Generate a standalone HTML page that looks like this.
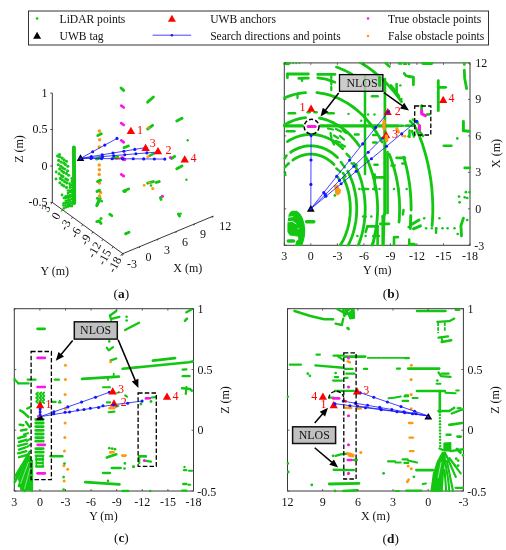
<!DOCTYPE html>
<html><head><meta charset="utf-8"><title>Figure</title>
<style>html,body{margin:0;padding:0;background:#fff}svg{display:block}text{font-family:"Liberation Serif","DejaVu Serif",serif}</style>
</head><body>
<svg width="506" height="550" viewBox="0 0 506 550">
<rect width="506" height="550" fill="#fff"/>
<rect x="28.5" y="11" width="460" height="34" fill="#fff" stroke="#333" stroke-width="1"/>
<circle cx="37.1" cy="18.5" r="1.3" fill="#00d000"/>
<path d="M33.1 38.8 L41.1 38.8 L37.1 31.8Z" fill="#000"/>
<path d="M167.9 21.7 L175.9 21.7 L171.9 14.7Z" fill="#ff0000"/>
<line x1="152.6" y1="35.2" x2="191.2" y2="35.2" stroke="#1414ff" stroke-width="0.8" />
<circle cx="171.9" cy="35.2" r="1.2" fill="#1414ff"/>
<circle cx="368.0" cy="18.5" r="1.25" fill="#ff14e6"/>
<circle cx="368.0" cy="36.0" r="1.25" fill="#ff9812"/>
<text x="59.6" y="23.3" font-size="11.55" text-anchor="start" fill="#111" >LiDAR points</text>
<text x="59.6" y="39.5" font-size="11.55" text-anchor="start" fill="#111" >UWB tag</text>
<text x="210.2" y="23.3" font-size="11.55" text-anchor="start" fill="#111" >UWB anchors</text>
<text x="210.2" y="39.5" font-size="11.55" text-anchor="start" fill="#111" >Search directions and points</text>
<text x="388.1" y="23.3" font-size="11.55" text-anchor="start" fill="#111" >True obstacle points</text>
<text x="388.1" y="39.5" font-size="11.55" text-anchor="start" fill="#111" >False obstacle points</text>
<line x1="52.3" y1="93.1" x2="52.3" y2="202.4" stroke="#222" stroke-width="0.9" />
<line x1="52.3" y1="202.4" x2="123.3" y2="254.0" stroke="#222" stroke-width="0.9" />
<line x1="122.0" y1="254.0" x2="213.3" y2="216.1" stroke="#222" stroke-width="0.9" />
<line x1="50.3" y1="93.1" x2="52.3" y2="93.1" stroke="#222" stroke-width="0.8" />
<text x="47.5" y="96.6" font-size="12" text-anchor="end" fill="#111" >1</text>
<line x1="50.3" y1="129.5" x2="52.3" y2="129.5" stroke="#222" stroke-width="0.8" />
<text x="47.5" y="133.0" font-size="12" text-anchor="end" fill="#111" >0.5</text>
<line x1="50.3" y1="166.0" x2="52.3" y2="166.0" stroke="#222" stroke-width="0.8" />
<text x="47.5" y="169.5" font-size="12" text-anchor="end" fill="#111" >0</text>
<line x1="50.3" y1="202.4" x2="52.3" y2="202.4" stroke="#222" stroke-width="0.8" />
<text x="47.5" y="205.9" font-size="12" text-anchor="end" fill="#111" >-0.5</text>
<line x1="52.3" y1="202.4" x2="51.1" y2="204.2" stroke="#222" stroke-width="0.8" />
<text x="48.3" y="206.4" font-size="12" text-anchor="end" fill="#111" transform="rotate(-61 48.3 206.4)" dy="3">3</text>
<line x1="62.4" y1="209.8" x2="61.2" y2="211.6" stroke="#222" stroke-width="0.8" />
<text x="58.4" y="213.8" font-size="12" text-anchor="end" fill="#111" transform="rotate(-61 58.4 213.8)" dy="3">0</text>
<line x1="72.6" y1="217.1" x2="71.4" y2="218.9" stroke="#222" stroke-width="0.8" />
<text x="68.6" y="221.1" font-size="12" text-anchor="end" fill="#111" transform="rotate(-61 68.6 221.1)" dy="3">-3</text>
<line x1="82.7" y1="224.5" x2="81.5" y2="226.3" stroke="#222" stroke-width="0.8" />
<text x="78.7" y="228.5" font-size="12" text-anchor="end" fill="#111" transform="rotate(-61 78.7 228.5)" dy="3">-6</text>
<line x1="92.9" y1="231.9" x2="91.7" y2="233.7" stroke="#222" stroke-width="0.8" />
<text x="88.9" y="235.9" font-size="12" text-anchor="end" fill="#111" transform="rotate(-61 88.9 235.9)" dy="3">-9</text>
<line x1="103.0" y1="239.2" x2="101.8" y2="241.1" stroke="#222" stroke-width="0.8" />
<text x="99.0" y="243.2" font-size="12" text-anchor="end" fill="#111" transform="rotate(-61 99.0 243.2)" dy="3">-12</text>
<line x1="113.1" y1="246.6" x2="111.9" y2="248.4" stroke="#222" stroke-width="0.8" />
<text x="109.1" y="250.6" font-size="12" text-anchor="end" fill="#111" transform="rotate(-61 109.1 250.6)" dy="3">-15</text>
<line x1="123.3" y1="254.0" x2="122.1" y2="255.8" stroke="#222" stroke-width="0.8" />
<text x="119.3" y="258.0" font-size="12" text-anchor="end" fill="#111" transform="rotate(-61 119.3 258.0)" dy="3">-18</text>
<line x1="122.0" y1="254.0" x2="120.7" y2="255.7" stroke="#222" stroke-width="0.8" />
<text x="132.0" y="268.4" font-size="12" text-anchor="middle" fill="#111" >-3</text>
<line x1="140.3" y1="246.4" x2="139.0" y2="248.1" stroke="#222" stroke-width="0.8" />
<text x="148.5" y="261.0" font-size="12" text-anchor="middle" fill="#111" >0</text>
<line x1="158.5" y1="238.8" x2="157.2" y2="240.5" stroke="#222" stroke-width="0.8" />
<text x="167.0" y="253.5" font-size="12" text-anchor="middle" fill="#111" >3</text>
<line x1="176.8" y1="231.3" x2="175.5" y2="233.0" stroke="#222" stroke-width="0.8" />
<text x="185.0" y="245.5" font-size="12" text-anchor="middle" fill="#111" >6</text>
<line x1="195.0" y1="223.7" x2="193.7" y2="225.4" stroke="#222" stroke-width="0.8" />
<text x="203.0" y="237.7" font-size="12" text-anchor="middle" fill="#111" >9</text>
<line x1="213.3" y1="216.1" x2="212.0" y2="217.8" stroke="#222" stroke-width="0.8" />
<text x="225.2" y="230.0" font-size="12" text-anchor="middle" fill="#111" >12</text>
<text x="54.8" y="274.6" font-size="12" text-anchor="middle" fill="#111" >Y (m)</text>
<text x="187.8" y="271.6" font-size="12" text-anchor="middle" fill="#111" >X (m)</text>
<text x="19.4" y="149" font-size="12" text-anchor="middle" fill="#111" transform="rotate(-90 19.4 149)" dy="4">Z (m)</text>
<text x="121.3" y="298" font-size="13.3" text-anchor="middle" fill="#111">(<tspan font-weight="bold">a</tspan>)</text>
<path d="M73.9 147.5 L74.2 203.0" stroke="#12c612" stroke-width="3.92" fill="none" stroke-linecap="round" stroke-linejoin="round" />
<circle cx="71.8" cy="178.3" r="1.35" fill="#12c612"/>
<circle cx="71.9" cy="180.7" r="1.35" fill="#12c612"/>
<circle cx="72.1" cy="182.6" r="1.35" fill="#12c612"/>
<circle cx="69.6" cy="183.7" r="1.35" fill="#12c612"/>
<circle cx="71.9" cy="185.0" r="1.35" fill="#12c612"/>
<circle cx="70.2" cy="185.7" r="1.35" fill="#12c612"/>
<circle cx="72.2" cy="187.5" r="1.35" fill="#12c612"/>
<circle cx="70.0" cy="187.7" r="1.35" fill="#12c612"/>
<circle cx="72.1" cy="190.1" r="1.35" fill="#12c612"/>
<circle cx="69.9" cy="190.5" r="1.35" fill="#12c612"/>
<circle cx="67.9" cy="190.5" r="1.35" fill="#12c612"/>
<circle cx="72.2" cy="192.2" r="1.35" fill="#12c612"/>
<circle cx="69.8" cy="192.2" r="1.35" fill="#12c612"/>
<circle cx="68.0" cy="193.1" r="1.35" fill="#12c612"/>
<circle cx="72.1" cy="194.7" r="1.35" fill="#12c612"/>
<circle cx="70.0" cy="195.3" r="1.35" fill="#12c612"/>
<circle cx="67.7" cy="195.7" r="1.35" fill="#12c612"/>
<circle cx="65.7" cy="196.3" r="1.35" fill="#12c612"/>
<circle cx="72.2" cy="196.4" r="1.35" fill="#12c612"/>
<circle cx="69.7" cy="197.0" r="1.35" fill="#12c612"/>
<circle cx="68.1" cy="197.7" r="1.35" fill="#12c612"/>
<circle cx="65.8" cy="198.1" r="1.35" fill="#12c612"/>
<circle cx="72.0" cy="198.9" r="1.35" fill="#12c612"/>
<circle cx="69.8" cy="199.6" r="1.35" fill="#12c612"/>
<circle cx="67.9" cy="200.4" r="1.35" fill="#12c612"/>
<circle cx="65.8" cy="200.9" r="1.35" fill="#12c612"/>
<circle cx="72.2" cy="201.7" r="1.35" fill="#12c612"/>
<circle cx="70.0" cy="201.6" r="1.35" fill="#12c612"/>
<circle cx="68.0" cy="202.7" r="1.35" fill="#12c612"/>
<circle cx="65.9" cy="202.9" r="1.35" fill="#12c612"/>
<circle cx="63.7" cy="203.2" r="1.35" fill="#12c612"/>
<circle cx="72.2" cy="203.7" r="1.35" fill="#12c612"/>
<circle cx="69.8" cy="203.8" r="1.35" fill="#12c612"/>
<circle cx="68.0" cy="205.0" r="1.35" fill="#12c612"/>
<circle cx="65.5" cy="205.4" r="1.35" fill="#12c612"/>
<circle cx="63.5" cy="205.4" r="1.35" fill="#12c612"/>
<circle cx="71.9" cy="206.1" r="1.35" fill="#12c612"/>
<circle cx="70.1" cy="206.1" r="1.35" fill="#12c612"/>
<circle cx="67.9" cy="206.6" r="1.35" fill="#12c612"/>
<circle cx="65.8" cy="207.3" r="1.35" fill="#12c612"/>
<circle cx="63.8" cy="208.4" r="1.35" fill="#12c612"/>
<circle cx="57.6" cy="155.9" r="1.55" fill="#12c612"/>
<circle cx="59.6" cy="156.7" r="1.55" fill="#12c612"/>
<circle cx="62.1" cy="158.1" r="1.55" fill="#12c612"/>
<circle cx="64.0" cy="159.9" r="1.55" fill="#12c612"/>
<circle cx="66.5" cy="161.2" r="1.55" fill="#12c612"/>
<circle cx="58.6" cy="160.4" r="1.55" fill="#12c612"/>
<circle cx="61.0" cy="162.0" r="1.55" fill="#12c612"/>
<circle cx="63.7" cy="163.0" r="1.55" fill="#12c612"/>
<circle cx="65.5" cy="164.6" r="1.55" fill="#12c612"/>
<circle cx="67.9" cy="166.2" r="1.55" fill="#12c612"/>
<circle cx="58.3" cy="164.8" r="1.55" fill="#12c612"/>
<circle cx="60.9" cy="166.2" r="1.55" fill="#12c612"/>
<circle cx="62.6" cy="167.9" r="1.55" fill="#12c612"/>
<circle cx="64.7" cy="169.0" r="1.55" fill="#12c612"/>
<circle cx="67.5" cy="170.7" r="1.55" fill="#12c612"/>
<circle cx="59.7" cy="168.9" r="1.55" fill="#12c612"/>
<circle cx="61.8" cy="170.9" r="1.55" fill="#12c612"/>
<circle cx="63.7" cy="172.4" r="1.55" fill="#12c612"/>
<circle cx="66.4" cy="173.4" r="1.55" fill="#12c612"/>
<circle cx="68.6" cy="175.3" r="1.55" fill="#12c612"/>
<circle cx="59.1" cy="173.8" r="1.55" fill="#12c612"/>
<circle cx="61.4" cy="175.6" r="1.55" fill="#12c612"/>
<circle cx="63.0" cy="176.5" r="1.55" fill="#12c612"/>
<circle cx="65.7" cy="178.8" r="1.55" fill="#12c612"/>
<circle cx="67.6" cy="179.9" r="1.55" fill="#12c612"/>
<circle cx="60.4" cy="178.4" r="1.55" fill="#12c612"/>
<circle cx="62.4" cy="179.9" r="1.55" fill="#12c612"/>
<circle cx="64.6" cy="181.6" r="1.55" fill="#12c612"/>
<circle cx="66.8" cy="182.9" r="1.55" fill="#12c612"/>
<circle cx="59.9" cy="182.7" r="1.55" fill="#12c612"/>
<circle cx="62.0" cy="184.8" r="1.55" fill="#12c612"/>
<circle cx="63.9" cy="185.9" r="1.55" fill="#12c612"/>
<circle cx="66.5" cy="187.4" r="1.55" fill="#12c612"/>
<circle cx="59.5" cy="154.5" r="1.4" fill="#12c612"/>
<circle cx="56.2" cy="172.0" r="1.4" fill="#12c612"/>
<circle cx="56.0" cy="179.0" r="1.4" fill="#12c612"/>
<circle cx="62.0" cy="195.0" r="1.4" fill="#12c612"/>
<circle cx="64.0" cy="198.0" r="1.4" fill="#12c612"/>
<circle cx="99.4" cy="131.0" r="1.75" fill="#ff9812"/>
<circle cx="99.6" cy="139.8" r="1.75" fill="#ff9812"/>
<circle cx="99.2" cy="147.0" r="1.75" fill="#ff9812"/>
<circle cx="99.2" cy="165.0" r="1.75" fill="#ff9812"/>
<circle cx="99.4" cy="169.8" r="1.75" fill="#ff9812"/>
<circle cx="99.2" cy="174.5" r="1.75" fill="#ff9812"/>
<circle cx="99.5" cy="183.0" r="1.75" fill="#ff9812"/>
<circle cx="100.6" cy="192.4" r="1.75" fill="#ff9812"/>
<circle cx="99.6" cy="196.0" r="1.75" fill="#ff9812"/>
<path d="M97.8 135.5 L101.3 133.8" stroke="#12c612" stroke-width="2.91" fill="none" stroke-linecap="round" stroke-linejoin="round" />
<path d="M96.5 159.0 L102.0 157.3" stroke="#12c612" stroke-width="2.91" fill="none" stroke-linecap="round" stroke-linejoin="round" />
<path d="M97.5 181.5 L100.5 180.2" stroke="#12c612" stroke-width="2.91" fill="none" stroke-linecap="round" stroke-linejoin="round" />
<path d="M97.0 191.4 L99.5 190.3" stroke="#12c612" stroke-width="2.91" fill="none" stroke-linecap="round" stroke-linejoin="round" />
<path d="M96.8 205.5 L99.0 200.5" stroke="#12c612" stroke-width="3.14" fill="none" stroke-linecap="round" stroke-linejoin="round" />
<circle cx="97.4" cy="198.2" r="1.5" fill="#12c612"/>
<circle cx="101.6" cy="201.2" r="1.4" fill="#12c612"/>
<circle cx="100.4" cy="198.6" r="1.3" fill="#12c612"/>
<path d="M96.8 221.6 L99.4 221.0 L101.0 223.4" stroke="#12c612" stroke-width="2.91" fill="none" stroke-linecap="round" stroke-linejoin="round" />
<circle cx="101.0" cy="218.6" r="1.5" fill="#12c612"/>
<path d="M109.8 214.3 L111.8 215.6" stroke="#12c612" stroke-width="2.91" fill="none" stroke-linecap="round" stroke-linejoin="round" />
<path d="M121.0 88.0 L123.6 90.4" stroke="#12c612" stroke-width="2.91" fill="none" stroke-linecap="round" stroke-linejoin="round" />
<path d="M121.2 105.6 L123.8 107.5" stroke="#ff14e6" stroke-width="2.69" fill="none" stroke-linecap="round" stroke-linejoin="round" />
<path d="M121.2 123.1 L123.8 125.0" stroke="#ff14e6" stroke-width="2.69" fill="none" stroke-linecap="round" stroke-linejoin="round" />
<path d="M121.2 140.4 L123.8 142.3" stroke="#ff14e6" stroke-width="2.69" fill="none" stroke-linecap="round" stroke-linejoin="round" />
<path d="M121.2 157.9 L123.8 159.8" stroke="#ff14e6" stroke-width="2.69" fill="none" stroke-linecap="round" stroke-linejoin="round" />
<path d="M121.2 174.3 L123.8 176.2" stroke="#ff14e6" stroke-width="2.69" fill="none" stroke-linecap="round" stroke-linejoin="round" />
<path d="M124.0 147.6 L128.4 146.0" stroke="#12c612" stroke-width="2.91" fill="none" stroke-linecap="round" stroke-linejoin="round" />
<path d="M123.6 191.0 L128.6 189.0" stroke="#12c612" stroke-width="2.91" fill="none" stroke-linecap="round" stroke-linejoin="round" />
<path d="M124.5 191.5 L125.5 191.2" stroke="#12c612" stroke-width="2.91" fill="none" stroke-linecap="round" stroke-linejoin="round" />
<path d="M147.6 102.2 L153.4 97.0" stroke="#12c612" stroke-width="2.91" fill="none" stroke-linecap="round" stroke-linejoin="round" />
<path d="M147.6 129.0 L152.6 125.4" stroke="#12c612" stroke-width="2.91" fill="none" stroke-linecap="round" stroke-linejoin="round" />
<path d="M176.8 121.0 L182.0 118.2" stroke="#12c612" stroke-width="2.91" fill="none" stroke-linecap="round" stroke-linejoin="round" />
<circle cx="187.7" cy="140.2" r="1.2" fill="#12c612"/>
<circle cx="186.4" cy="179.8" r="1.2" fill="#12c612"/>
<path d="M176.8 168.8 L182.0 166.0" stroke="#12c612" stroke-width="2.91" fill="none" stroke-linecap="round" stroke-linejoin="round" />
<path d="M171.4 158.4 L174.6 156.4" stroke="#12c612" stroke-width="2.91" fill="none" stroke-linecap="round" stroke-linejoin="round" />
<circle cx="170.4" cy="157.6" r="1.5" fill="#ff14e6"/>
<circle cx="148.4" cy="127.6" r="1.3" fill="#ff9812"/>
<circle cx="144.1" cy="185.3" r="1.4" fill="#ff9812"/>
<path d="M147.6 183.2 L153.4 181.6" stroke="#12c612" stroke-width="2.91" fill="none" stroke-linecap="round" stroke-linejoin="round" />
<path d="M156.2 182.4 L159.2 181.6" stroke="#12c612" stroke-width="2.91" fill="none" stroke-linecap="round" stroke-linejoin="round" />
<circle cx="152.8" cy="188.6" r="1.6" fill="#ff9812"/>
<circle cx="151.0" cy="185.5" r="1.3" fill="#12c612"/>
<circle cx="149.5" cy="182.6" r="1.2" fill="#ff9812"/>
<circle cx="162.4" cy="196.3" r="1.6" fill="#ff14e6"/>
<path d="M160.4 197.6 L161.0 199.4" stroke="#12c612" stroke-width="2.91" fill="none" stroke-linecap="round" stroke-linejoin="round" />
<path d="M178.4 214.0 L179.6 216.0" stroke="#12c612" stroke-width="2.91" fill="none" stroke-linecap="round" stroke-linejoin="round" />
<circle cx="180.6" cy="213.6" r="1.2" fill="#12c612"/>
<path d="M125.8 233.8 L129.0 232.3" stroke="#12c612" stroke-width="2.91" fill="none" stroke-linecap="round" stroke-linejoin="round" />
<circle cx="124.6" cy="191.2" r="1.2" fill="#12c612"/>
<circle cx="125.7" cy="233.5" r="1.2" fill="#12c612"/>
<path d="M147.5 157.0 L152.5 154.2" stroke="#ff9812" stroke-width="2.46" fill="none" stroke-linecap="round" stroke-linejoin="round" />
<path d="M150.0 155.6 L154.0 153.5" stroke="#12c612" stroke-width="2.24" fill="none" stroke-linecap="round" stroke-linejoin="round" />
<path d="M113.0 158.2 L118.0 157.0" stroke="#12c612" stroke-width="2.46" fill="none" stroke-linecap="round" stroke-linejoin="round" />
<path d="M116.0 159.0 L120.0 158.3" stroke="#ff9812" stroke-width="2.24" fill="none" stroke-linecap="round" stroke-linejoin="round" />
<path d="M122.4 157.5 L125.0 159.6" stroke="#ff14e6" stroke-width="2.69" fill="none" stroke-linecap="round" stroke-linejoin="round" />
<path d="M80.5 158.4 L117.0 138.4" stroke="#1414ff" stroke-width="0.8" fill="none" stroke-linecap="round" stroke-linejoin="round" />
<circle cx="92.7" cy="151.7" r="1.55" fill="#1414ff"/>
<circle cx="104.8" cy="145.1" r="1.55" fill="#1414ff"/>
<circle cx="117.0" cy="138.4" r="1.55" fill="#1414ff"/>
<path d="M80.5 158.4 L145.6 147.6" stroke="#1414ff" stroke-width="0.8" fill="none" stroke-linecap="round" stroke-linejoin="round" />
<circle cx="91.3" cy="156.6" r="1.55" fill="#1414ff"/>
<circle cx="102.2" cy="154.8" r="1.55" fill="#1414ff"/>
<circle cx="113.0" cy="153.0" r="1.55" fill="#1414ff"/>
<circle cx="123.9" cy="151.2" r="1.55" fill="#1414ff"/>
<circle cx="134.8" cy="149.4" r="1.55" fill="#1414ff"/>
<circle cx="145.6" cy="147.6" r="1.55" fill="#1414ff"/>
<path d="M80.5 158.4 L158.0 152.0" stroke="#1414ff" stroke-width="0.8" fill="none" stroke-linecap="round" stroke-linejoin="round" />
<circle cx="91.6" cy="157.5" r="1.55" fill="#1414ff"/>
<circle cx="102.6" cy="156.6" r="1.55" fill="#1414ff"/>
<circle cx="113.7" cy="155.7" r="1.55" fill="#1414ff"/>
<circle cx="124.8" cy="154.7" r="1.55" fill="#1414ff"/>
<circle cx="135.9" cy="153.8" r="1.55" fill="#1414ff"/>
<circle cx="146.9" cy="152.9" r="1.55" fill="#1414ff"/>
<circle cx="158.0" cy="152.0" r="1.55" fill="#1414ff"/>
<path d="M80.5 158.4 L164.8 159.1" stroke="#1414ff" stroke-width="0.8" fill="none" stroke-linecap="round" stroke-linejoin="round" />
<circle cx="91.0" cy="158.5" r="1.55" fill="#1414ff"/>
<circle cx="101.6" cy="158.6" r="1.55" fill="#1414ff"/>
<circle cx="112.1" cy="158.7" r="1.55" fill="#1414ff"/>
<circle cx="122.7" cy="158.8" r="1.55" fill="#1414ff"/>
<circle cx="133.2" cy="158.8" r="1.55" fill="#1414ff"/>
<circle cx="143.7" cy="158.9" r="1.55" fill="#1414ff"/>
<circle cx="154.3" cy="159.0" r="1.55" fill="#1414ff"/>
<circle cx="164.8" cy="159.1" r="1.55" fill="#1414ff"/>
<path d="M126.7 134.1 L135.1 134.1 L130.9 126.7Z" fill="#ff0000"/>
<text x="140.0" y="133.8" font-size="12" text-anchor="middle" fill="#ff0000" >1</text>
<path d="M141.4 151.1 L149.8 151.1 L145.6 143.7Z" fill="#ff0000"/>
<text x="152.8" y="147.0" font-size="12" text-anchor="middle" fill="#ff0000" >3</text>
<path d="M153.8 154.3 L162.2 154.3 L158.0 146.9Z" fill="#ff0000"/>
<text x="168.5" y="154.0" font-size="12" text-anchor="middle" fill="#ff0000" >2</text>
<path d="M180.5 162.6 L188.9 162.6 L184.7 155.2Z" fill="#ff0000"/>
<text x="193.5" y="162.3" font-size="12" text-anchor="middle" fill="#ff0000" >4</text>
<path d="M76.7 161.0 L84.3 161.0 L80.5 154.2Z" fill="#000"/>
<circle cx="80.5" cy="158.6" r="1.3" fill="#1414ff"/>
<clipPath id="cb"><rect x="283.3" y="61.9" width="187.7" height="184.4"/></clipPath>
<rect x="284.3" y="62.9" width="185.7" height="182.4" fill="none" stroke="#3a3a3a" stroke-width="1"/>
<g clip-path="url(#cb)">
<path d="M292.9 160.1 L293.8 159.4 L294.7 158.8 L295.7 158.3 L296.6 157.7 L297.6 157.2 L298.6 156.8 L299.6 156.4 L300.6 156.0 L301.6 155.6 L302.6 155.3 L303.6 155.0 L304.6 154.8 L305.6 154.6 L306.7 154.4 L307.7 154.3 L308.7 154.2 L309.8 154.1 L310.8 154.1 L311.8 154.1 L312.9 154.2 L313.9 154.3 L314.9 154.4 L316.0 154.6 L317.0 154.8 L318.0 155.0 L319.0 155.3 L320.0 155.6 L321.0 156.0 L322.0 156.4 L323.0 156.8 L324.0 157.2 L325.0 157.7 L325.9 158.3 L326.9 158.8 L327.8 159.4 L328.7 160.1 L329.6 160.7 L330.6 161.4 L331.4 162.2 L332.3 162.9 L333.2 163.7 L334.0 164.5" stroke="#12c612" stroke-width="2.82" fill="none" stroke-linecap="round" stroke-linejoin="round" />
<path d="M343.4 177.8 L343.9 179.0 L344.5 180.2 L345.0 181.4 L345.5 182.7 L346.0 184.0 L346.5 185.3 L346.9 186.6 L347.3 187.9 L347.7 189.2 L348.0 190.5 L348.4 191.9 L348.7 193.3 L349.0 194.6 L349.2 196.0 L349.4 197.4 L349.6 198.8 L349.8 200.2 L350.0 201.7 L350.1 203.1 L350.2 204.5 L350.2 205.9 L350.3 207.4 L350.3 208.8 L350.3 210.2 L350.2 211.7 L350.2 213.1 L350.1 214.5 L350.0 215.9 L349.8 217.4 L349.6 218.8 L349.4 220.2 L349.2 221.6 L349.0 223.0 L348.7 224.3 L348.4 225.7 L348.0 227.1 L347.7 228.4 L347.3 229.7 L346.9 231.0 L346.5 232.3 L346.0 233.6 L345.5 234.9 L345.0 236.2 L344.5 237.4 L343.9 238.6 L343.4 239.8 L342.8 241.0 L342.1 242.1 L341.5 243.2 L340.8 244.3 L340.2 245.4" stroke="#12c612" stroke-width="2.82" fill="none" stroke-linecap="round" stroke-linejoin="round" />
<path d="M290.7 152.2 L291.8 151.5 L292.9 150.8 L294.0 150.2 L295.1 149.6 L296.2 149.1 L297.4 148.6 L298.5 148.1 L299.7 147.7 L300.9 147.3 L302.0 147.0 L303.2 146.7 L304.4 146.4 L305.6 146.2 L306.8 146.0 L308.0 145.9 L309.2 145.8 L310.4 145.8 L311.6 145.8 L312.8 145.9 L314.0 146.0 L315.2 146.1 L316.4 146.3 L317.6 146.5 L318.8 146.8 L320.0 147.1 L321.1 147.4 L322.3 147.8 L323.5 148.2 L324.6 148.7 L325.7 149.2 L326.9 149.8 L328.0 150.4 L329.1 151.0 L330.2 151.7 L331.3 152.4 L332.3 153.2 L333.4 154.0 L334.4 154.8 L335.5 155.7 L336.5 156.6 L337.5 157.5" stroke="#12c612" stroke-width="2.82" fill="none" stroke-linecap="round" stroke-linejoin="round" />
<path d="M347.7 171.3 L348.4 172.7 L349.1 174.0 L349.7 175.4 L350.3 176.8 L350.9 178.3 L351.5 179.7 L352.1 181.2 L352.6 182.7 L353.1 184.2 L353.5 185.7 L353.9 187.3 L354.3 188.8 L354.7 190.4 L355.0 192.0 L355.3 193.6 L355.6 195.2 L355.9 196.8 L356.1 198.4 L356.3 200.0 L356.4 201.7 L356.5 203.3 L356.6 205.0 L356.7 206.6 L356.7 208.3 L356.7 209.9 L356.7 211.5 L356.6 213.2 L356.5 214.8 L356.4 216.5 L356.2 218.1 L356.0 219.7 L355.8 221.4 L355.5 223.0 L355.2 224.6 L354.9 226.2 L354.6 227.7 L354.2 229.3 L353.8 230.9 L353.4 232.4 L352.9 233.9 L352.4 235.4 L351.9 236.9 L351.3 238.4 L350.7 239.8 L350.1 241.2 L349.5 242.6 L348.9 244.0 L348.2 245.4 L347.5 246.7" stroke="#12c612" stroke-width="2.82" fill="none" stroke-linecap="round" stroke-linejoin="round" />
<path d="M287.4 141.6 L288.7 140.8 L290.0 140.1 L291.3 139.3 L292.6 138.7 L294.0 138.0 L295.3 137.5 L296.7 136.9 L298.1 136.5 L299.5 136.0 L300.9 135.6 L302.3 135.3 L303.7 135.0 L305.1 134.8 L306.5 134.6 L308.0 134.5 L309.4 134.4 L310.8 134.4 L312.2 134.4 L313.6 134.5 L315.1 134.6 L316.5 134.8 L317.9 135.0 L319.3 135.3 L320.7 135.6 L322.1 136.0 L323.5 136.5 L324.9 136.9 L326.3 137.5 L327.6 138.0 L329.0 138.7 L330.3 139.3 L331.6 140.1 L332.9 140.8 L334.2 141.6 L335.5 142.5 L336.8 143.4 L338.0 144.4 L339.2 145.4 L340.4 146.4 L341.6 147.5 L342.8 148.6" stroke="#12c612" stroke-width="2.82" fill="none" stroke-linecap="round" stroke-linejoin="round" />
<path d="M354.0 163.5 L354.8 165.1 L355.6 166.7 L356.4 168.3 L357.2 169.9 L357.9 171.6 L358.6 173.3 L359.3 175.0 L359.9 176.8 L360.5 178.5 L361.1 180.3 L361.6 182.1 L362.1 184.0 L362.5 185.8 L363.0 187.7 L363.3 189.5 L363.7 191.4 L364.0 193.3 L364.3 195.2 L364.5 197.2 L364.7 199.1 L364.9 201.0 L365.0 203.0 L365.1 204.9 L365.2 206.9 L365.2 208.8 L365.2 210.7 L365.1 212.7 L365.0 214.6 L364.9 216.6 L364.7 218.5 L364.5 220.4 L364.3 222.4 L364.0 224.3 L363.7 226.2 L363.3 228.1 L363.0 229.9 L362.5 231.8 L362.1 233.6 L361.6 235.5 L361.1 237.3 L360.5 239.1 L359.9 240.8 L359.3 242.6 L358.6 244.3 L357.9 246.0" stroke="#12c612" stroke-width="2.82" fill="none" stroke-linecap="round" stroke-linejoin="round" />
<path d="M283.6 125.3 L285.2 124.4 L286.9 123.5 L288.5 122.6 L290.2 121.9 L291.8 121.2 L293.5 120.5 L295.2 119.9 L296.9 119.4 L298.6 118.9 L300.4 118.5 L302.1 118.2 L303.8 117.9 L305.6 117.7" stroke="#12c612" stroke-width="2.82" fill="none" stroke-linecap="round" stroke-linejoin="round" />
<path d="M319.5 118.2 L321.2 118.5 L323.0 118.9 L324.7 119.4 L326.4 119.9 L328.1 120.5 L329.8 121.2 L331.4 121.9 L333.1 122.6 L334.7 123.5 L336.4 124.4 L338.0 125.3 L339.6 126.3 L341.1 127.4 L342.7 128.5 L344.2 129.6 L345.7 130.9 L347.2 132.1 L348.6 133.5 L350.1 134.9 L351.5 136.3 L352.8 137.8 L354.2 139.3 L355.5 140.9 L356.8 142.5 L358.0 144.2 L359.3 145.9" stroke="#12c612" stroke-width="2.82" fill="none" stroke-linecap="round" stroke-linejoin="round" />
<path d="M365.9 157.0 L366.8 159.0 L367.8 161.0 L368.7 163.1 L369.5 165.2 L370.3 167.3 L371.1 169.5 L371.8 171.6 L372.5 173.8 L373.2 176.0 L373.8 178.3 L374.3 180.6 L374.8 182.8 L375.3 185.1 L375.8 187.5 L376.1 189.8 L376.5 192.1 L376.8 194.5 L377.0 196.9 L377.2 199.2 L377.4 201.6 L377.5 204.0 L377.6 206.4 L377.6 208.8 L377.6 211.2 L377.5 213.6 L377.4 216.0 L377.2 218.4 L377.0 220.7 L376.8 223.1 L376.5 225.5 L376.1 227.8 L375.8 230.1 L375.3 232.5 L374.8 234.8 L374.3 237.0 L373.8 239.3 L373.2 241.6 L372.5 243.8 L371.8 246.0" stroke="#12c612" stroke-width="2.82" fill="none" stroke-linecap="round" stroke-linejoin="round" />
<path d="M283.2 98.4 L285.4 97.5 L287.6 96.6 L289.8 95.9 L292.0 95.2 L294.2 94.5 L296.4 94.0 L298.7 93.5 L301.0 93.1 L303.2 92.8 L305.5 92.6" stroke="#12c612" stroke-width="2.82" fill="none" stroke-linecap="round" stroke-linejoin="round" />
<path d="M316.9 92.7 L319.1 92.9 L321.4 93.3 L323.7 93.7 L325.9 94.2 L328.1 94.7 L330.4 95.4 L332.6 96.1 L334.8 96.9 L337.0 97.8 L339.1 98.7 L341.3 99.8 L343.4 100.9 L345.5 102.1 L347.6 103.3 L349.6 104.6 L351.6 106.0 L353.6 107.5 L355.6 109.0 L357.5 110.6 L359.4 112.3 L361.3 114.0 L363.2 115.8 L365.0 117.7 L366.7 119.6 L368.4 121.6 L370.1 123.7 L371.8 125.8 L373.4 127.9 L374.9 130.2 L376.5 132.4 L377.9 134.8 L379.4 137.1 L380.7 139.6 L382.1 142.0" stroke="#12c612" stroke-width="2.82" fill="none" stroke-linecap="round" stroke-linejoin="round" />
<path d="M389.2 154.2 L390.3 156.9 L391.3 159.6 L392.2 162.4 L393.1 165.2 L394.0 168.0 L394.8 170.9 L395.5 173.8 L396.2 176.7 L396.8 179.7 L397.3 182.6 L397.8 185.6 L398.3 188.6 L398.6 191.6 L398.9 194.6 L399.2 197.6 L399.4 200.7 L399.5 203.7 L399.6 206.8 L399.6 209.8 L399.5 212.9 L399.4 215.9 L399.3 218.9 L399.0 222.0" stroke="#12c612" stroke-width="2.82" fill="none" stroke-linecap="round" stroke-linejoin="round" />
<path d="M336.4 67.1 L339.1 68.1 L341.8 69.2 L344.4 70.3 L347.1 71.6 L349.6 73.0 L352.2 74.4" stroke="#12c612" stroke-width="2.71" fill="none" stroke-linecap="round" stroke-linejoin="round" />
<path d="M403.8 157.1 L404.7 160.5 L405.6 163.9 L406.5 167.3 L407.2 170.8 L407.9 174.2 L408.5 177.8 L409.1 181.3 L409.6 184.8 L410.0 188.4 L410.4 192.0 L410.6 195.6 L410.9 199.2 L411.0 202.8 L411.1 206.4 L411.1 210.0" stroke="#12c612" stroke-width="2.82" fill="none" stroke-linecap="round" stroke-linejoin="round" />
<path d="M360.4 62.6 L363.3 64.4 L366.2 66.2 L369.0 68.2 L371.8 70.2 L374.5 72.4 L377.2 74.6 L379.9 76.9 L382.5 79.4 L385.1 81.9 L387.6 84.5 L390.0 87.1 L392.4 89.9 L394.8 92.7 L397.1 95.7 L399.3 98.7 L401.5 101.7" stroke="#12c612" stroke-width="2.82" fill="none" stroke-linecap="round" stroke-linejoin="round" />
<path d="M419.5 136.2 L420.9 139.9 L422.3 143.7 L423.5 147.6 L424.7 151.5 L425.8 155.4 L426.8 159.4 L427.8 163.4 L428.6 167.4 L429.4 171.4 L430.1 175.5 L430.8 179.6 L431.3 183.8 L431.8 187.9 L432.1 192.1 L432.4 196.2 L432.6 200.4 L432.8 204.6 L432.8 208.8 L432.8 213.0 L432.6 217.2 L432.4 221.4 L432.1 225.5" stroke="#12c612" stroke-width="2.82" fill="none" stroke-linecap="round" stroke-linejoin="round" />
<path d="M284.5 125.8 L302.5 125.8" stroke="#12c612" stroke-width="3.16" fill="none" stroke-linecap="round" stroke-linejoin="round" />
<path d="M320.5 125.8 L398.0 125.8" stroke="#12c612" stroke-width="3.16" fill="none" stroke-linecap="round" stroke-linejoin="round" />
<path d="M400.0 125.8 L413.0 125.8" stroke="#12c612" stroke-width="2.49" fill="none" stroke-linecap="round" stroke-linejoin="round" stroke-dasharray="3 2.5"/>
<path d="M365.0 76.0 L365.0 174.0" stroke="#12c612" stroke-width="2.49" fill="none" stroke-linecap="round" stroke-linejoin="round" />
<path d="M384.9 79.0 L384.9 122.0" stroke="#12c612" stroke-width="2.71" fill="none" stroke-linecap="round" stroke-linejoin="round" />
<path d="M384.8 123.0 L384.8 214.0" stroke="#12c612" stroke-width="3.05" fill="none" stroke-linecap="round" stroke-linejoin="round" />
<path d="M387.5 152.0 L387.6 213.0" stroke="#12c612" stroke-width="2.6" fill="none" stroke-linecap="round" stroke-linejoin="round" />
<path d="M384.3 214.0 L383.5 245.0" stroke="#12c612" stroke-width="2.49" fill="none" stroke-linecap="round" stroke-linejoin="round" />
<path d="M331.3 76.0 L331.3 92.0" stroke="#12c612" stroke-width="2.26" fill="none" stroke-linecap="round" stroke-linejoin="round" stroke-dasharray="3 2.5"/>
<path d="M287.4 74.0 L308.3 74.0" stroke="#12c612" stroke-width="2.94" fill="none" stroke-linecap="round" stroke-linejoin="round" />
<path d="M287.4 74.0 L287.4 77.8" stroke="#12c612" stroke-width="2.71" fill="none" stroke-linecap="round" stroke-linejoin="round" />
<path d="M298.8 78.4 L308.3 78.2" stroke="#12c612" stroke-width="2.71" fill="none" stroke-linecap="round" stroke-linejoin="round" />
<path d="M302.0 78.4 L302.0 81.0" stroke="#12c612" stroke-width="2.26" fill="none" stroke-linecap="round" stroke-linejoin="round" />
<path d="M317.8 74.4 L334.9 74.4" stroke="#12c612" stroke-width="2.94" fill="none" stroke-linecap="round" stroke-linejoin="round" />
<path d="M317.8 77.8 L326.0 79.1 L334.9 82.2" stroke="#12c612" stroke-width="2.71" fill="none" stroke-linecap="round" stroke-linejoin="round" />
<path d="M284.5 63.6 L288.7 63.8" stroke="#12c612" stroke-width="2.71" fill="none" stroke-linecap="round" stroke-linejoin="round" />
<path d="M290.0 63.3 L300.0 63.3" stroke="#12c612" stroke-width="1.81" fill="none" stroke-linecap="round" stroke-linejoin="round" stroke-dasharray="0.1 3"/>
<path d="M297.5 95.5 L297.5 98.0" stroke="#12c612" stroke-width="2.26" fill="none" stroke-linecap="round" stroke-linejoin="round" />
<path d="M288.7 113.2 L295.0 113.2" stroke="#12c612" stroke-width="2.6" fill="none" stroke-linecap="round" stroke-linejoin="round" />
<path d="M307.7 112.3 L309.6 112.3" stroke="#12c612" stroke-width="2.6" fill="none" stroke-linecap="round" stroke-linejoin="round" />
<path d="M314.6 112.3 L316.5 112.3" stroke="#12c612" stroke-width="2.6" fill="none" stroke-linecap="round" stroke-linejoin="round" />
<path d="M327.9 113.2 L333.6 113.2" stroke="#12c612" stroke-width="2.6" fill="none" stroke-linecap="round" stroke-linejoin="round" />
<path d="M286.8 131.2 L294.4 131.2" stroke="#12c612" stroke-width="2.6" fill="none" stroke-linecap="round" stroke-linejoin="round" />
<path d="M372.0 96.2 L377.6 96.2" stroke="#12c612" stroke-width="2.6" fill="none" stroke-linecap="round" stroke-linejoin="round" />
<path d="M396.6 84.0 L396.6 91.7" stroke="#12c612" stroke-width="2.6" fill="none" stroke-linecap="round" stroke-linejoin="round" />
<path d="M385.5 63.0 L389.5 66.5" stroke="#12c612" stroke-width="2.49" fill="none" stroke-linecap="round" stroke-linejoin="round" />
<path d="M399.0 63.5 L409.0 64.0" stroke="#12c612" stroke-width="2.49" fill="none" stroke-linecap="round" stroke-linejoin="round" stroke-dasharray="2 3"/>
<path d="M404.2 73.4 L406.0 75.8 L409.2 76.5" stroke="#12c612" stroke-width="2.6" fill="none" stroke-linecap="round" stroke-linejoin="round" />
<circle cx="348.5" cy="113.9" r="1.2" fill="#12c612"/>
<circle cx="361.2" cy="120.8" r="1.2" fill="#12c612"/>
<circle cx="374.5" cy="114.5" r="1.2" fill="#12c612"/>
<circle cx="368.1" cy="114.5" r="1.2" fill="#12c612"/>
<circle cx="400.4" cy="85.4" r="1.2" fill="#12c612"/>
<circle cx="401.5" cy="99.0" r="1.2" fill="#12c612"/>
<path d="M390.9 85.4 L395.0 90.5 L399.1 96.2" stroke="#12c612" stroke-width="2.49" fill="none" stroke-linecap="round" stroke-linejoin="round" />
<path d="M422.9 63.5 L431.8 63.5" stroke="#12c612" stroke-width="2.94" fill="none" stroke-linecap="round" stroke-linejoin="round" />
<path d="M409.0 76.5 L413.4 77.2 L413.4 84.8" stroke="#12c612" stroke-width="2.82" fill="none" stroke-linecap="round" stroke-linejoin="round" />
<path d="M438.3 80.7 L438.3 110.7" stroke="#12c612" stroke-width="2.82" fill="none" stroke-linecap="round" stroke-linejoin="round" />
<path d="M438.3 87.3 L445.7 87.3" stroke="#12c612" stroke-width="2.82" fill="none" stroke-linecap="round" stroke-linejoin="round" />
<path d="M464.3 63.0 L464.3 64.5" stroke="#12c612" stroke-width="2.71" fill="none" stroke-linecap="round" stroke-linejoin="round" />
<path d="M464.3 70.2 L464.7 78.4 L466.6 88.6" stroke="#12c612" stroke-width="2.82" fill="none" stroke-linecap="round" stroke-linejoin="round" />
<path d="M463.4 121.4 L463.4 130.6" stroke="#12c612" stroke-width="2.94" fill="none" stroke-linecap="round" stroke-linejoin="round" />
<path d="M463.4 130.8 L469.0 131.2" stroke="#12c612" stroke-width="2.94" fill="none" stroke-linecap="round" stroke-linejoin="round" />
<circle cx="457.3" cy="138.4" r="1.3" fill="#12c612"/>
<path d="M443.8 145.8 L451.4 145.8" stroke="#12c612" stroke-width="2.6" fill="none" stroke-linecap="round" stroke-linejoin="round" />
<path d="M464.7 167.9 L469.7 167.9" stroke="#12c612" stroke-width="2.6" fill="none" stroke-linecap="round" stroke-linejoin="round" />
<path d="M421.6 105.6 L421.6 109.4" stroke="#12c612" stroke-width="2.82" fill="none" stroke-linecap="round" stroke-linejoin="round" />
<path d="M426.7 114.5 L429.2 114.3" stroke="#12c612" stroke-width="2.71" fill="none" stroke-linecap="round" stroke-linejoin="round" />
<path d="M421.6 110.9 L421.8 113.9 L425.4 115.6" stroke="#ff14e6" stroke-width="3.16" fill="none" stroke-linecap="round" stroke-linejoin="round" />
<path d="M419.4 125.5 L419.6 130.0" stroke="#ff14e6" stroke-width="3.16" fill="none" stroke-linecap="round" stroke-linejoin="round" />
<path d="M409.5 130.6 L409.5 137.0" stroke="#12c612" stroke-width="2.49" fill="none" stroke-linecap="round" stroke-linejoin="round" />
<path d="M412.0 131.0 L414.0 136.5" stroke="#12c612" stroke-width="2.49" fill="none" stroke-linecap="round" stroke-linejoin="round" />
<path d="M410.0 121.0 L415.0 126.0" stroke="#12c612" stroke-width="2.49" fill="none" stroke-linecap="round" stroke-linejoin="round" />
<path d="M413.0 119.5 L418.0 123.5" stroke="#12c612" stroke-width="2.49" fill="none" stroke-linecap="round" stroke-linejoin="round" />
<path d="M420.0 132.0 L423.0 136.0" stroke="#12c612" stroke-width="2.49" fill="none" stroke-linecap="round" stroke-linejoin="round" />
<path d="M416.0 128.0 L418.0 133.5" stroke="#12c612" stroke-width="2.49" fill="none" stroke-linecap="round" stroke-linejoin="round" />
<path d="M407.0 125.8 L412.0 125.8" stroke="#12c612" stroke-width="2.49" fill="none" stroke-linecap="round" stroke-linejoin="round" />
<path d="M284.6 158.5 L286.5 155.5" stroke="#12c612" stroke-width="2.6" fill="none" stroke-linecap="round" stroke-linejoin="round" />
<path d="M285.0 167.0 L288.8 163.3" stroke="#12c612" stroke-width="2.6" fill="none" stroke-linecap="round" stroke-linejoin="round" />
<path d="M284.6 172.0 L285.5 175.0" stroke="#12c612" stroke-width="2.26" fill="none" stroke-linecap="round" stroke-linejoin="round" />
<path d="M328.0 128.5 L333.0 129.5" stroke="#12c612" stroke-width="2.26" fill="none" stroke-linecap="round" stroke-linejoin="round" />
<path d="M336.0 129.0 L341.0 131.5" stroke="#12c612" stroke-width="2.26" fill="none" stroke-linecap="round" stroke-linejoin="round" />
<path d="M343.0 130.5 L346.0 133.0" stroke="#12c612" stroke-width="2.26" fill="none" stroke-linecap="round" stroke-linejoin="round" />
<path d="M330.5 133.0 L331.5 138.0" stroke="#12c612" stroke-width="2.26" fill="none" stroke-linecap="round" stroke-linejoin="round" />
<path d="M334.0 135.5 L338.0 138.0" stroke="#12c612" stroke-width="2.26" fill="none" stroke-linecap="round" stroke-linejoin="round" />
<path d="M340.0 136.0 L344.0 139.5" stroke="#12c612" stroke-width="2.26" fill="none" stroke-linecap="round" stroke-linejoin="round" />
<path d="M336.0 141.0 L340.0 142.5" stroke="#12c612" stroke-width="2.26" fill="none" stroke-linecap="round" stroke-linejoin="round" />
<path d="M332.0 140.5 L334.0 144.5" stroke="#12c612" stroke-width="2.26" fill="none" stroke-linecap="round" stroke-linejoin="round" />
<path d="M341.5 144.5 L345.0 146.5" stroke="#12c612" stroke-width="2.26" fill="none" stroke-linecap="round" stroke-linejoin="round" />
<path d="M336.4 168.5 L340.2 171.6" stroke="#12c612" stroke-width="2.49" fill="none" stroke-linecap="round" stroke-linejoin="round" />
<path d="M340.9 162.1 L344.7 167.2" stroke="#12c612" stroke-width="2.49" fill="none" stroke-linecap="round" stroke-linejoin="round" />
<path d="M346.6 153.9 L349.7 157.1" stroke="#12c612" stroke-width="2.49" fill="none" stroke-linecap="round" stroke-linejoin="round" />
<path d="M351.6 163.4 L356.7 165.3" stroke="#12c612" stroke-width="2.49" fill="none" stroke-linecap="round" stroke-linejoin="round" />
<path d="M337.0 176.5 L339.5 179.5" stroke="#12c612" stroke-width="2.49" fill="none" stroke-linecap="round" stroke-linejoin="round" />
<path d="M343.0 173.0 L345.5 176.5" stroke="#12c612" stroke-width="2.49" fill="none" stroke-linecap="round" stroke-linejoin="round" />
<path d="M373.2 177.4 L384.0 177.4" stroke="#12c612" stroke-width="2.71" fill="none" stroke-linecap="round" stroke-linejoin="round" />
<path d="M374.7 174.5 L374.9 189.5" stroke="#12c612" stroke-width="2.49" fill="none" stroke-linecap="round" stroke-linejoin="round" />
<path d="M396.6 157.8 L404.8 157.8" stroke="#12c612" stroke-width="2.82" fill="none" stroke-linecap="round" stroke-linejoin="round" />
<path d="M354.9 134.4 L358.6 134.4" stroke="#12c612" stroke-width="2.49" fill="none" stroke-linecap="round" stroke-linejoin="round" />
<path d="M373.2 135.0 L376.4 135.0" stroke="#12c612" stroke-width="2.49" fill="none" stroke-linecap="round" stroke-linejoin="round" />
<path d="M373.2 142.6 L376.4 142.6" stroke="#12c612" stroke-width="2.49" fill="none" stroke-linecap="round" stroke-linejoin="round" />
<path d="M374.5 164.7 L377.6 164.7" stroke="#12c612" stroke-width="2.49" fill="none" stroke-linecap="round" stroke-linejoin="round" />
<path d="M391.5 165.4 L394.7 165.4" stroke="#12c612" stroke-width="2.49" fill="none" stroke-linecap="round" stroke-linejoin="round" />
<path d="M402.3 163.5 L404.8 163.5" stroke="#12c612" stroke-width="2.49" fill="none" stroke-linecap="round" stroke-linejoin="round" />
<circle cx="408.6" cy="136.3" r="1.3" fill="#12c612"/>
<circle cx="359.3" cy="189.0" r="1.25" fill="#12c612"/>
<circle cx="373.2" cy="189.0" r="1.25" fill="#12c612"/>
<circle cx="376.4" cy="189.0" r="1.25" fill="#12c612"/>
<circle cx="379.5" cy="189.0" r="1.25" fill="#12c612"/>
<circle cx="394.0" cy="189.0" r="1.25" fill="#12c612"/>
<circle cx="398.5" cy="189.0" r="1.25" fill="#12c612"/>
<circle cx="406.7" cy="189.0" r="1.25" fill="#12c612"/>
<path d="M361.8 189.0 L368.1 189.0" stroke="#12c612" stroke-width="2.49" fill="none" stroke-linecap="round" stroke-linejoin="round" />
<circle cx="363.1" cy="216.6" r="1.25" fill="#12c612"/>
<circle cx="365.6" cy="216.6" r="1.25" fill="#12c612"/>
<circle cx="371.3" cy="216.6" r="1.25" fill="#12c612"/>
<circle cx="382.7" cy="216.6" r="1.25" fill="#12c612"/>
<path d="M367.5 226.3 L377.6 226.3" stroke="#12c612" stroke-width="2.71" fill="none" stroke-linecap="round" stroke-linejoin="round" />
<path d="M380.2 223.8 L389.0 223.8" stroke="#12c612" stroke-width="2.71" fill="none" stroke-linecap="round" stroke-linejoin="round" />
<path d="M367.5 226.3 L365.6 232.0" stroke="#12c612" stroke-width="2.49" fill="none" stroke-linecap="round" stroke-linejoin="round" />
<path d="M377.6 226.3 L377.6 245.0" stroke="#12c612" stroke-width="2.6" fill="none" stroke-linecap="round" stroke-linejoin="round" />
<path d="M382.7 216.0 L382.7 245.0" stroke="#12c612" stroke-width="2.6" fill="none" stroke-linecap="round" stroke-linejoin="round" />
<path d="M376.4 228.3 L373.2 243.5" stroke="#12c612" stroke-width="2.49" fill="none" stroke-linecap="round" stroke-linejoin="round" />
<circle cx="357.4" cy="235.9" r="1.25" fill="#12c612"/>
<circle cx="365.6" cy="235.9" r="1.25" fill="#12c612"/>
<circle cx="373.2" cy="235.9" r="1.25" fill="#12c612"/>
<circle cx="376.4" cy="235.9" r="1.25" fill="#12c612"/>
<circle cx="378.9" cy="235.9" r="1.25" fill="#12c612"/>
<path d="M397.9 237.1 L394.0 237.3 L394.0 245.0" stroke="#12c612" stroke-width="2.6" fill="none" stroke-linecap="round" stroke-linejoin="round" />
<path d="M403.5 210.0 L402.9 214.4" stroke="#12c612" stroke-width="2.49" fill="none" stroke-linecap="round" stroke-linejoin="round" />
<circle cx="408.6" cy="227.0" r="1.2" fill="#12c612"/>
<path d="M409.2 239.5 L409.2 243.5" stroke="#12c612" stroke-width="2.49" fill="none" stroke-linecap="round" stroke-linejoin="round" />
<path d="M410.8 215.6 L410.3 228.5" stroke="#12c612" stroke-width="2.94" fill="none" stroke-linecap="round" stroke-linejoin="round" />
<path d="M411.5 224.5 L419.0 220.0" stroke="#12c612" stroke-width="2.94" fill="none" stroke-linecap="round" stroke-linejoin="round" />
<path d="M413.5 228.8 L420.5 225.8" stroke="#12c612" stroke-width="2.94" fill="none" stroke-linecap="round" stroke-linejoin="round" />
<circle cx="426.1" cy="228.3" r="1.25" fill="#12c612"/>
<circle cx="431.8" cy="228.3" r="1.25" fill="#12c612"/>
<circle cx="436.2" cy="228.3" r="1.25" fill="#12c612"/>
<circle cx="442.5" cy="228.3" r="1.25" fill="#12c612"/>
<circle cx="447.6" cy="228.3" r="1.25" fill="#12c612"/>
<circle cx="454.5" cy="228.3" r="1.25" fill="#12c612"/>
<path d="M436.2 228.3 L436.0 232.7" stroke="#12c612" stroke-width="2.49" fill="none" stroke-linecap="round" stroke-linejoin="round" />
<circle cx="424.2" cy="218.2" r="1.25" fill="#12c612"/>
<circle cx="439.4" cy="218.2" r="1.25" fill="#12c612"/>
<circle cx="459.0" cy="196.6" r="1.35" fill="#12c612"/>
<circle cx="459.6" cy="202.3" r="1.35" fill="#12c612"/>
<circle cx="464.7" cy="197.3" r="1.35" fill="#12c612"/>
<circle cx="467.2" cy="198.0" r="1.35" fill="#12c612"/>
<circle cx="465.9" cy="192.2" r="1.35" fill="#12c612"/>
<circle cx="469.6" cy="192.2" r="1.35" fill="#12c612"/>
<circle cx="467.2" cy="220.0" r="1.35" fill="#12c612"/>
<circle cx="457.7" cy="234.0" r="1.35" fill="#12c612"/>
<path d="M463.4 218.2 L460.9 225.7 L461.5 235.9" stroke="#12c612" stroke-width="2.82" fill="none" stroke-linecap="round" stroke-linejoin="round" />
<path d="M409.5 244.5 L414.2 244.5" stroke="#12c612" stroke-width="3.39" fill="none" stroke-linecap="round" stroke-linejoin="round" />
<path d="M290.6 212.6 L292.5 211.3 L296.5 211.3 L299.7 213.9 L302.3 218.5 L304 224.4 L304.6 229.6 L304.3 236.1 L303 241.4 L301.7 245.3 L295.8 245.3 L296.5 242 L299.1 239.4 L298.4 236.1 L293.8 235.5 L289.9 234.8 L288 231.6 L288 224.4 L288.6 218.5 L289.3 214.6Z" fill="#12c612" stroke="#12c612" stroke-width="1.2" stroke-linejoin="round"/>
<path d="M288.2 241.0 L293.6 241.0" stroke="#12c612" stroke-width="3.28" fill="none" stroke-linecap="round" stroke-linejoin="round" />
<path d="M287.6 217.4 L292.8 216.6" stroke="#fff" stroke-width="0.8" fill="none" stroke-linecap="round" stroke-linejoin="round" />
<path d="M287.6 221.8 L292.5 221.4 L296.0 223.8" stroke="#fff" stroke-width="0.9" fill="none" stroke-linecap="round" stroke-linejoin="round" />
<line x1="297.5" y1="229.0" x2="299.0" y2="228.0" stroke="#fff" stroke-width="0.7" />
<path d="M306.6 221.7 L313.8 221.7" stroke="#12c612" stroke-width="3.39" fill="none" stroke-linecap="round" stroke-linejoin="round" />
<circle cx="334.9" cy="195.4" r="1.4" fill="#12c612"/>
<path d="M384.0 121.5 L384.0 128.7" stroke="#ff9812" stroke-width="3.39" fill="none" stroke-linecap="round" stroke-linejoin="round" />
<path d="M396.8 128.7 L398.5 131.9" stroke="#ff9812" stroke-width="2.94" fill="none" stroke-linecap="round" stroke-linejoin="round" />
<circle cx="402.3" cy="135.6" r="1.4" fill="#ff9812"/>
<circle cx="404.8" cy="136.3" r="1.4" fill="#ff9812"/>
<path d="M334.4 185.8 L337.2 185.2 L338.6 188.6 L340.4 190.2 L339.6 193.4 L337.2 194.6 L335.4 192.4 L335.8 189.4Z" fill="#ff9812" stroke="#ff9812" stroke-width="1.4" stroke-linejoin="round"/>
<path d="M308.2 126.5 L315.2 126.5" stroke="#ff14e6" stroke-width="3.16" fill="none" stroke-linecap="round" stroke-linejoin="round" />
</g>
<line x1="284.3" y1="245.3" x2="284.3" y2="243.3" stroke="#444" stroke-width="0.8" />
<line x1="284.3" y1="62.9" x2="284.3" y2="64.9" stroke="#444" stroke-width="0.8" />
<text x="284.3" y="260.2" font-size="12" text-anchor="middle" fill="#111" >3</text>
<line x1="310.8" y1="245.3" x2="310.8" y2="243.3" stroke="#444" stroke-width="0.8" />
<line x1="310.8" y1="62.9" x2="310.8" y2="64.9" stroke="#444" stroke-width="0.8" />
<text x="310.8" y="260.2" font-size="12" text-anchor="middle" fill="#111" >0</text>
<line x1="337.4" y1="245.3" x2="337.4" y2="243.3" stroke="#444" stroke-width="0.8" />
<line x1="337.4" y1="62.9" x2="337.4" y2="64.9" stroke="#444" stroke-width="0.8" />
<text x="337.4" y="260.2" font-size="12" text-anchor="middle" fill="#111" >-3</text>
<line x1="363.9" y1="245.3" x2="363.9" y2="243.3" stroke="#444" stroke-width="0.8" />
<line x1="363.9" y1="62.9" x2="363.9" y2="64.9" stroke="#444" stroke-width="0.8" />
<text x="363.9" y="260.2" font-size="12" text-anchor="middle" fill="#111" >-6</text>
<line x1="390.4" y1="245.3" x2="390.4" y2="243.3" stroke="#444" stroke-width="0.8" />
<line x1="390.4" y1="62.9" x2="390.4" y2="64.9" stroke="#444" stroke-width="0.8" />
<text x="390.4" y="260.2" font-size="12" text-anchor="middle" fill="#111" >-9</text>
<line x1="416.9" y1="245.3" x2="416.9" y2="243.3" stroke="#444" stroke-width="0.8" />
<line x1="416.9" y1="62.9" x2="416.9" y2="64.9" stroke="#444" stroke-width="0.8" />
<text x="416.9" y="260.2" font-size="12" text-anchor="middle" fill="#111" >-12</text>
<line x1="443.5" y1="245.3" x2="443.5" y2="243.3" stroke="#444" stroke-width="0.8" />
<line x1="443.5" y1="62.9" x2="443.5" y2="64.9" stroke="#444" stroke-width="0.8" />
<text x="443.5" y="260.2" font-size="12" text-anchor="middle" fill="#111" >-15</text>
<line x1="470.0" y1="245.3" x2="470.0" y2="243.3" stroke="#444" stroke-width="0.8" />
<line x1="470.0" y1="62.9" x2="470.0" y2="64.9" stroke="#444" stroke-width="0.8" />
<text x="470.0" y="260.2" font-size="12" text-anchor="middle" fill="#111" >-18</text>
<line x1="470.0" y1="62.9" x2="468.0" y2="62.9" stroke="#444" stroke-width="0.8" />
<line x1="284.3" y1="62.9" x2="286.3" y2="62.9" stroke="#444" stroke-width="0.8" />
<text x="475.3" y="66.9" font-size="12" text-anchor="start" fill="#111" >12</text>
<line x1="470.0" y1="99.4" x2="468.0" y2="99.4" stroke="#444" stroke-width="0.8" />
<line x1="284.3" y1="99.4" x2="286.3" y2="99.4" stroke="#444" stroke-width="0.8" />
<text x="475.3" y="103.4" font-size="12" text-anchor="start" fill="#111" >9</text>
<line x1="470.0" y1="135.9" x2="468.0" y2="135.9" stroke="#444" stroke-width="0.8" />
<line x1="284.3" y1="135.9" x2="286.3" y2="135.9" stroke="#444" stroke-width="0.8" />
<text x="475.3" y="139.9" font-size="12" text-anchor="start" fill="#111" >6</text>
<line x1="470.0" y1="172.3" x2="468.0" y2="172.3" stroke="#444" stroke-width="0.8" />
<line x1="284.3" y1="172.3" x2="286.3" y2="172.3" stroke="#444" stroke-width="0.8" />
<text x="475.3" y="176.3" font-size="12" text-anchor="start" fill="#111" >3</text>
<line x1="470.0" y1="208.8" x2="468.0" y2="208.8" stroke="#444" stroke-width="0.8" />
<line x1="284.3" y1="208.8" x2="286.3" y2="208.8" stroke="#444" stroke-width="0.8" />
<text x="475.3" y="212.8" font-size="12" text-anchor="start" fill="#111" >0</text>
<line x1="470.0" y1="245.3" x2="468.0" y2="245.3" stroke="#444" stroke-width="0.8" />
<line x1="284.3" y1="245.3" x2="286.3" y2="245.3" stroke="#444" stroke-width="0.8" />
<text x="474.2" y="249.9" font-size="12" text-anchor="start" fill="#111" >-3</text>
<text x="377.2" y="273.8" font-size="12" text-anchor="middle" fill="#111" >Y (m)</text>
<text x="495.8" y="153.4" font-size="12" text-anchor="middle" fill="#111" transform="rotate(-90 495.8 153.4)" dy="4">X (m)</text>
<text x="391" y="298" font-size="13.3" text-anchor="middle" fill="#111">(<tspan font-weight="bold">b</tspan>)</text>
<path d="M310.8 208.8 L311.1 135.6" stroke="#1414ff" stroke-width="0.8" fill="none" stroke-linecap="round" stroke-linejoin="round" />
<circle cx="310.9" cy="184.4" r="1.55" fill="#1414ff"/>
<circle cx="311.0" cy="160.0" r="1.55" fill="#1414ff"/>
<circle cx="311.1" cy="135.6" r="1.55" fill="#1414ff"/>
<path d="M310.8 208.8 L388.6 111.4" stroke="#1414ff" stroke-width="0.8" fill="none" stroke-linecap="round" stroke-linejoin="round" />
<circle cx="323.8" cy="192.6" r="1.55" fill="#1414ff"/>
<circle cx="336.7" cy="176.3" r="1.55" fill="#1414ff"/>
<circle cx="349.7" cy="160.1" r="1.55" fill="#1414ff"/>
<circle cx="362.7" cy="143.9" r="1.55" fill="#1414ff"/>
<circle cx="375.6" cy="127.6" r="1.55" fill="#1414ff"/>
<circle cx="388.6" cy="111.4" r="1.55" fill="#1414ff"/>
<path d="M310.8 208.8 L382.6 138.0" stroke="#1414ff" stroke-width="0.8" fill="none" stroke-linecap="round" stroke-linejoin="round" />
<circle cx="325.2" cy="194.6" r="1.55" fill="#1414ff"/>
<circle cx="339.5" cy="180.5" r="1.55" fill="#1414ff"/>
<circle cx="353.9" cy="166.3" r="1.55" fill="#1414ff"/>
<circle cx="368.2" cy="152.2" r="1.55" fill="#1414ff"/>
<circle cx="382.6" cy="138.0" r="1.55" fill="#1414ff"/>
<path d="M310.8 208.8 L416.8 121.2" stroke="#1414ff" stroke-width="0.8" fill="none" stroke-linecap="round" stroke-linejoin="round" />
<circle cx="325.9" cy="196.3" r="1.55" fill="#1414ff"/>
<circle cx="341.1" cy="183.8" r="1.55" fill="#1414ff"/>
<circle cx="356.2" cy="171.3" r="1.55" fill="#1414ff"/>
<circle cx="371.4" cy="158.7" r="1.55" fill="#1414ff"/>
<circle cx="386.5" cy="146.2" r="1.55" fill="#1414ff"/>
<circle cx="401.7" cy="133.7" r="1.55" fill="#1414ff"/>
<circle cx="416.8" cy="121.2" r="1.55" fill="#1414ff"/>
<path d="M307.0 111.8 L315.2 111.8 L311.1 104.6Z" fill="#ff0000"/>
<text x="302.6" y="111.2" font-size="12" text-anchor="middle" fill="#ff0000" >1</text>
<path d="M383.6 115.1 L391.8 115.1 L387.7 107.9Z" fill="#ff0000"/>
<text x="397.8" y="114.6" font-size="12" text-anchor="middle" fill="#ff0000" >2</text>
<path d="M382.0 138.2 L390.2 138.2 L386.1 131.0Z" fill="#ff0000"/>
<text x="395.0" y="137.8" font-size="12" text-anchor="middle" fill="#ff0000" >3</text>
<path d="M439.1 103.0 L447.3 103.0 L443.2 95.8Z" fill="#ff0000"/>
<text x="451.6" y="102.4" font-size="12" text-anchor="middle" fill="#ff0000" >4</text>
<circle cx="387.9" cy="112.2" r="1.5" fill="#1414ff"/>
<path d="M386.4 135.8 L386.6 140.5" stroke="#ff9812" stroke-width="3.28" fill="none" stroke-linecap="round" stroke-linejoin="round" />
<path d="M306.9 211.7 L314.7 211.7 L310.8 205.1Z" fill="#000"/>
<circle cx="310.8" cy="209.2" r="1.3" fill="#1414ff"/>
<circle cx="311.6" cy="126.7" r="7.4" fill="none" stroke="#000" stroke-width="1.5" stroke-dasharray="4.2 2.2"/>
<rect x="414.7" y="106" width="16.100000000000023" height="29" fill="none" stroke="#000" stroke-width="1.3" stroke-dasharray="4.5 2.2"/>
<line x1="338.7" y1="93.0" x2="325.4" y2="110.3" stroke="#000" stroke-width="1.5" />
<path d="M320.5 116.6 L322.8 107.7 L328.5 112.1Z" fill="#000"/>
<line x1="383.9" y1="92.6" x2="402.5" y2="105.9" stroke="#000" stroke-width="1.5" />
<path d="M409.0 110.6 L400.0 108.6 L404.2 102.7Z" fill="#000"/>
<rect x="339.5" y="74.6" width="43.4" height="16.7" fill="#c0c0c0" fill-opacity="0.82" stroke="#000" stroke-width="1.3"/>
<text x="362.0" y="87.3" font-size="11.9" text-anchor="middle" fill="#111" >NLOS</text>
<path d="M379.6 77.5 L379.6 85.5" stroke="#12c612" stroke-width="2.94" fill="none" stroke-linecap="round" stroke-linejoin="round" />
<clipPath id="cc"><rect x="13.3" y="307.7" width="181.2" height="184.8"/></clipPath>
<rect x="14.3" y="308.7" width="179.2" height="182.3" fill="none" stroke="#3a3a3a" stroke-width="1"/>
<g clip-path="url(#cc)">
<path d="M37.6 328.8 L44.6 328.8" stroke="#12c612" stroke-width="2.76" fill="none" stroke-linecap="round" stroke-linejoin="round" />
<circle cx="14.6" cy="379.4" r="1.4" fill="#12c612"/>
<path d="M15.2 380.0 L18.3 383.2" stroke="#12c612" stroke-width="2.02" fill="none" stroke-linecap="round" stroke-linejoin="round" />
<path d="M18.3 383.4 L28.4 383.4" stroke="#12c612" stroke-width="2.39" fill="none" stroke-linecap="round" stroke-linejoin="round" />
<path d="M27.8 379.6 L35.4 379.6" stroke="#12c612" stroke-width="2.39" fill="none" stroke-linecap="round" stroke-linejoin="round" />
<path d="M55.0 379.6 L58.8 379.6" stroke="#12c612" stroke-width="2.39" fill="none" stroke-linecap="round" stroke-linejoin="round" />
<path d="M37.9 392.5 L36.2 394.0 L37.9 395.5" stroke="#12c612" stroke-width="1.93" fill="none" stroke-linecap="round" stroke-linejoin="round" />
<path d="M41.1 392.5 L39.4 394.0 L41.1 395.5" stroke="#12c612" stroke-width="1.93" fill="none" stroke-linecap="round" stroke-linejoin="round" />
<path d="M44.1 392.5 L42.4 394.0 L44.1 395.5" stroke="#12c612" stroke-width="1.93" fill="none" stroke-linecap="round" stroke-linejoin="round" />
<path d="M37.9 396.2 L36.2 397.7 L37.9 399.2" stroke="#12c612" stroke-width="1.93" fill="none" stroke-linecap="round" stroke-linejoin="round" />
<path d="M41.1 396.2 L39.4 397.7 L41.1 399.2" stroke="#12c612" stroke-width="1.93" fill="none" stroke-linecap="round" stroke-linejoin="round" />
<path d="M44.1 396.2 L42.4 397.7 L44.1 399.2" stroke="#12c612" stroke-width="1.93" fill="none" stroke-linecap="round" stroke-linejoin="round" />
<path d="M37.9 400.0 L36.2 401.5 L37.9 403.0" stroke="#12c612" stroke-width="1.93" fill="none" stroke-linecap="round" stroke-linejoin="round" />
<path d="M41.1 400.0 L39.4 401.5 L41.1 403.0" stroke="#12c612" stroke-width="1.93" fill="none" stroke-linecap="round" stroke-linejoin="round" />
<path d="M44.1 400.0 L42.4 401.5 L44.1 403.0" stroke="#12c612" stroke-width="1.93" fill="none" stroke-linecap="round" stroke-linejoin="round" />
<path d="M35.8 419.5 L43.2 419.5" stroke="#12c612" stroke-width="2.76" fill="none" stroke-linecap="round" stroke-linejoin="round" />
<path d="M35.8 423.0 L43.2 423.0" stroke="#12c612" stroke-width="2.76" fill="none" stroke-linecap="round" stroke-linejoin="round" />
<path d="M35.8 426.6 L43.2 426.6" stroke="#12c612" stroke-width="2.76" fill="none" stroke-linecap="round" stroke-linejoin="round" />
<path d="M35.8 430.3 L43.2 430.3" stroke="#12c612" stroke-width="2.76" fill="none" stroke-linecap="round" stroke-linejoin="round" />
<path d="M35.8 434.0 L43.2 434.0" stroke="#12c612" stroke-width="2.76" fill="none" stroke-linecap="round" stroke-linejoin="round" />
<path d="M35.8 437.6 L43.2 437.6" stroke="#12c612" stroke-width="2.76" fill="none" stroke-linecap="round" stroke-linejoin="round" />
<path d="M35.8 441.2 L43.2 441.2" stroke="#12c612" stroke-width="2.76" fill="none" stroke-linecap="round" stroke-linejoin="round" />
<path d="M35.8 448.6 L43.2 448.6" stroke="#12c612" stroke-width="2.76" fill="none" stroke-linecap="round" stroke-linejoin="round" />
<path d="M35.8 452.2 L43.2 452.2" stroke="#12c612" stroke-width="2.76" fill="none" stroke-linecap="round" stroke-linejoin="round" />
<path d="M36.0 455.8 L43.0 455.8" stroke="#12c612" stroke-width="2.67" fill="none" stroke-linecap="round" stroke-linejoin="round" />
<path d="M36.5 459.4 L42.8 459.4" stroke="#12c612" stroke-width="2.67" fill="none" stroke-linecap="round" stroke-linejoin="round" />
<path d="M37.0 463.0 L42.2 463.0" stroke="#12c612" stroke-width="2.67" fill="none" stroke-linecap="round" stroke-linejoin="round" />
<path d="M36.4 466.5 L43.0 466.5" stroke="#12c612" stroke-width="2.67" fill="none" stroke-linecap="round" stroke-linejoin="round" />
<path d="M36.0 456.0 L36.4 466.5" stroke="#12c612" stroke-width="1.47" fill="none" stroke-linecap="round" stroke-linejoin="round" />
<path d="M43.0 456.0 L43.0 466.5" stroke="#12c612" stroke-width="1.47" fill="none" stroke-linecap="round" stroke-linejoin="round" />
<path d="M52.5 401.9 L55.6 401.9" stroke="#12c612" stroke-width="2.21" fill="none" stroke-linecap="round" stroke-linejoin="round" />
<path d="M58.2 403 L61.3 403 L59.8 400Z" fill="#12c612" stroke="#12c612" stroke-width="1"/>
<path d="M50.5 456.2 L62.4 456.2" stroke="#12c612" stroke-width="2.39" fill="none" stroke-linecap="round" stroke-linejoin="round" />
<path d="M20.2 410.4 L23.4 412.3" stroke="#12c612" stroke-width="2.39" fill="none" stroke-linecap="round" stroke-linejoin="round" />
<path d="M23.4 412.3 L28.5 417.0" stroke="#12c612" stroke-width="2.39" fill="none" stroke-linecap="round" stroke-linejoin="round" />
<path d="M27.2 408.5 L30.3 407.2" stroke="#12c612" stroke-width="2.39" fill="none" stroke-linecap="round" stroke-linejoin="round" />
<path d="M19.6 424.6 L23.4 425.3" stroke="#12c612" stroke-width="2.39" fill="none" stroke-linecap="round" stroke-linejoin="round" />
<path d="M26.0 422.0 L29.7 427.0" stroke="#12c612" stroke-width="2.39" fill="none" stroke-linecap="round" stroke-linejoin="round" />
<path d="M21.0 430.5 L26.5 429.5" stroke="#12c612" stroke-width="2.39" fill="none" stroke-linecap="round" stroke-linejoin="round" />
<path d="M18.2 438.2 L25.6 436.0" stroke="#12c612" stroke-width="2.39" fill="none" stroke-linecap="round" stroke-linejoin="round" />
<path d="M19.0 442.0 L26.3 439.8" stroke="#12c612" stroke-width="2.39" fill="none" stroke-linecap="round" stroke-linejoin="round" />
<path d="M18.2 445.8 L27.0 443.6" stroke="#12c612" stroke-width="2.39" fill="none" stroke-linecap="round" stroke-linejoin="round" />
<path d="M19.0 449.6 L25.6 447.4" stroke="#12c612" stroke-width="2.39" fill="none" stroke-linecap="round" stroke-linejoin="round" />
<path d="M18.2 453.4 L26.3 451.2" stroke="#12c612" stroke-width="2.39" fill="none" stroke-linecap="round" stroke-linejoin="round" />
<path d="M19.0 457.2 L27.0 455.0" stroke="#12c612" stroke-width="2.39" fill="none" stroke-linecap="round" stroke-linejoin="round" />
<path d="M24.0 434.5 L28.0 433.2" stroke="#12c612" stroke-width="2.21" fill="none" stroke-linecap="round" stroke-linejoin="round" />
<path d="M27.0 441.0 L30.0 439.0" stroke="#12c612" stroke-width="2.02" fill="none" stroke-linecap="round" stroke-linejoin="round" />
<path d="M27.0 447.0 L30.5 444.5" stroke="#12c612" stroke-width="2.02" fill="none" stroke-linecap="round" stroke-linejoin="round" />
<path d="M14.8 482.0 L28.4 454.3" stroke="#12c612" stroke-width="2.67" fill="none" stroke-linecap="round" stroke-linejoin="round" />
<path d="M17.0 478.0 L29.7 451.8" stroke="#12c612" stroke-width="2.67" fill="none" stroke-linecap="round" stroke-linejoin="round" />
<path d="M19.0 486.0 L30.0 457.0" stroke="#12c612" stroke-width="2.67" fill="none" stroke-linecap="round" stroke-linejoin="round" />
<path d="M21.5 489.5 L31.0 460.6" stroke="#12c612" stroke-width="2.67" fill="none" stroke-linecap="round" stroke-linejoin="round" />
<path d="M24.6 491.0 L31.0 467.0" stroke="#12c612" stroke-width="2.67" fill="none" stroke-linecap="round" stroke-linejoin="round" />
<path d="M15.5 476.0 L26.5 458.0" stroke="#12c612" stroke-width="2.67" fill="none" stroke-linecap="round" stroke-linejoin="round" />
<path d="M22.5 482.0 L29.0 462.0" stroke="#12c612" stroke-width="2.67" fill="none" stroke-linecap="round" stroke-linejoin="round" />
<path d="M32.0 460.6 L32.0 491.0" stroke="#12c612" stroke-width="2.21" fill="none" stroke-linecap="round" stroke-linejoin="round" />
<path d="M18 479 L23 468 L28 457 L31 457 L31.5 491 L21 491 L19.5 486Z" fill="#12c612"/>
<line x1="20.5" y1="484.0" x2="28.5" y2="462.0" stroke="#fff" stroke-width="0.5" />
<line x1="24.5" y1="489.0" x2="30.0" y2="468.0" stroke="#fff" stroke-width="0.5" />
<circle cx="65.4" cy="365.2" r="1.5" fill="#ff9812"/>
<circle cx="65.4" cy="379.6" r="1.5" fill="#ff9812"/>
<circle cx="65.1" cy="394.6" r="1.5" fill="#ff9812"/>
<circle cx="65.4" cy="408.7" r="1.5" fill="#ff9812"/>
<circle cx="65.1" cy="423.0" r="1.5" fill="#ff9812"/>
<circle cx="64.9" cy="437.6" r="1.5" fill="#ff9812"/>
<circle cx="64.5" cy="451.1" r="1.5" fill="#ff9812"/>
<circle cx="63.9" cy="465.7" r="1.5" fill="#ff9812"/>
<circle cx="67.7" cy="469.2" r="1.5" fill="#ff9812"/>
<circle cx="64.1" cy="480.9" r="1.5" fill="#ff9812"/>
<circle cx="64.5" cy="463.6" r="1.4" fill="#12c612"/>
<circle cx="63.6" cy="477.1" r="1.4" fill="#12c612"/>
<circle cx="63.6" cy="489.7" r="1.4" fill="#12c612"/>
<path d="M116.3 311.0 L110.0 315.5" stroke="#12c612" stroke-width="2.3" fill="none" stroke-linecap="round" stroke-linejoin="round" />
<path d="M110.0 315.5 L111.2 320.0" stroke="#12c612" stroke-width="2.3" fill="none" stroke-linecap="round" stroke-linejoin="round" />
<path d="M112.5 318.6 L119.4 316.8" stroke="#12c612" stroke-width="2.3" fill="none" stroke-linecap="round" stroke-linejoin="round" />
<circle cx="126.6" cy="316.8" r="1.3" fill="#12c612"/>
<circle cx="126.6" cy="320.5" r="1.3" fill="#12c612"/>
<path d="M125.1 330.0 L139.0 322.8" stroke="#12c612" stroke-width="2.39" fill="none" stroke-linecap="round" stroke-linejoin="round" />
<circle cx="113.4" cy="336.4" r="1.3" fill="#12c612"/>
<circle cx="109.3" cy="341.4" r="1.3" fill="#12c612"/>
<path d="M106.8 347.7 L108.7 350.3 L113.1 347.1" stroke="#12c612" stroke-width="2.12" fill="none" stroke-linecap="round" stroke-linejoin="round" />
<path d="M110.6 360.4 L116.3 358.5" stroke="#12c612" stroke-width="2.21" fill="none" stroke-linecap="round" stroke-linejoin="round" />
<circle cx="110.6" cy="361.7" r="1.5" fill="#ff9812"/>
<path d="M82.1 378.8 L118.8 376.6" stroke="#12c612" stroke-width="2.76" fill="none" stroke-linecap="round" stroke-linejoin="round" />
<path d="M113.7 373.7 L113.7 376.9" stroke="#12c612" stroke-width="1.84" fill="none" stroke-linecap="round" stroke-linejoin="round" />
<path d="M108.0 377.5 L108.0 380.0" stroke="#12c612" stroke-width="1.84" fill="none" stroke-linecap="round" stroke-linejoin="round" />
<path d="M122.6 368.8 L134.5 367.6 L143.4 366.7 L188.9 362.3 L192.7 361.4" stroke="#12c612" stroke-width="2.58" fill="none" stroke-linecap="round" stroke-linejoin="round" />
<path d="M152.9 360.6 L175.0 358.1" stroke="#12c612" stroke-width="2.76" fill="none" stroke-linecap="round" stroke-linejoin="round" />
<path d="M186.4 312.3 L192.7 308.8" stroke="#12c612" stroke-width="2.39" fill="none" stroke-linecap="round" stroke-linejoin="round" />
<path d="M184.9 320.9 L187.0 318.6" stroke="#12c612" stroke-width="2.39" fill="none" stroke-linecap="round" stroke-linejoin="round" />
<path d="M182.6 369.6 L186.4 369.4" stroke="#12c612" stroke-width="2.3" fill="none" stroke-linecap="round" stroke-linejoin="round" />
<path d="M182.6 376.2 L189.6 376.2" stroke="#12c612" stroke-width="2.3" fill="none" stroke-linecap="round" stroke-linejoin="round" />
<path d="M182.0 388.2 L190.0 389.0 L192.0 390.8" stroke="#12c612" stroke-width="2.39" fill="none" stroke-linecap="round" stroke-linejoin="round" />
<path d="M186.4 387.0 L185.8 394.0" stroke="#12c612" stroke-width="2.21" fill="none" stroke-linecap="round" stroke-linejoin="round" />
<path d="M103.0 387.2 L110.0 387.2" stroke="#12c612" stroke-width="2.12" fill="none" stroke-linecap="round" stroke-linejoin="round" />
<path d="M106.8 402.4 L110.0 402.4" stroke="#12c612" stroke-width="2.12" fill="none" stroke-linecap="round" stroke-linejoin="round" />
<path d="M108.7 412.3 L114.4 411.6" stroke="#12c612" stroke-width="2.12" fill="none" stroke-linecap="round" stroke-linejoin="round" />
<path d="M125.1 395.4 L127.0 396.6" stroke="#12c612" stroke-width="2.02" fill="none" stroke-linecap="round" stroke-linejoin="round" />
<path d="M116.0 407.0 L118.5 406.0" stroke="#12c612" stroke-width="1.84" fill="none" stroke-linecap="round" stroke-linejoin="round" />
<path d="M117.0 392.8 L119.0 392.3" stroke="#12c612" stroke-width="1.84" fill="none" stroke-linecap="round" stroke-linejoin="round" />
<path d="M109.6 408.2 L114.2 408.2" stroke="#ff9812" stroke-width="2.58" fill="none" stroke-linecap="round" stroke-linejoin="round" />
<circle cx="109.3" cy="448.2" r="1.35" fill="#12c612"/>
<circle cx="112.2" cy="448.6" r="1.35" fill="#12c612"/>
<circle cx="115.0" cy="449.2" r="1.35" fill="#12c612"/>
<circle cx="124.9" cy="463.4" r="1.35" fill="#12c612"/>
<circle cx="124.5" cy="468.5" r="1.35" fill="#12c612"/>
<circle cx="133.6" cy="466.7" r="1.35" fill="#12c612"/>
<circle cx="108.0" cy="480.9" r="1.35" fill="#12c612"/>
<circle cx="150.3" cy="491.0" r="1.35" fill="#12c612"/>
<path d="M110.3 452.4 L113.5 452.2" stroke="#ff9812" stroke-width="2.76" fill="none" stroke-linecap="round" stroke-linejoin="round" />
<path d="M122.3 455.6 L125.6 455.6" stroke="#ff9812" stroke-width="2.58" fill="none" stroke-linecap="round" stroke-linejoin="round" />
<path d="M106.8 457.5 L116.3 454.3" stroke="#12c612" stroke-width="2.58" fill="none" stroke-linecap="round" stroke-linejoin="round" />
<path d="M111.8 468.0 L120.7 468.0" stroke="#12c612" stroke-width="2.39" fill="none" stroke-linecap="round" stroke-linejoin="round" />
<path d="M103.0 473.0 L110.0 473.0" stroke="#12c612" stroke-width="2.3" fill="none" stroke-linecap="round" stroke-linejoin="round" />
<path d="M85.3 482.1 L119.4 484.3" stroke="#12c612" stroke-width="2.76" fill="none" stroke-linecap="round" stroke-linejoin="round" />
<path d="M122.6 491.0 L128.3 491.0" stroke="#12c612" stroke-width="2.39" fill="none" stroke-linecap="round" stroke-linejoin="round" />
<path d="M145.9 398.4 L150.1 398.2" stroke="#ff14e6" stroke-width="2.58" fill="none" stroke-linecap="round" stroke-linejoin="round" />
<circle cx="140.9" cy="404.0" r="1.4" fill="#12c612"/>
<circle cx="151.0" cy="401.5" r="1.4" fill="#12c612"/>
<path d="M151.6 397.5 L156.0 397.1" stroke="#12c612" stroke-width="2.21" fill="none" stroke-linecap="round" stroke-linejoin="round" />
<path d="M139.4 456.2 L145.9 456.4" stroke="#12c612" stroke-width="2.58" fill="none" stroke-linecap="round" stroke-linejoin="round" />
<path d="M139.2 456.2 L139.2 463.2" stroke="#12c612" stroke-width="2.21" fill="none" stroke-linecap="round" stroke-linejoin="round" />
<path d="M145.9 460.8 L151.0 461.6" stroke="#12c612" stroke-width="2.3" fill="none" stroke-linecap="round" stroke-linejoin="round" />
<circle cx="144.4" cy="460.4" r="1.5" fill="#ff14e6"/>
<circle cx="133.3" cy="466.7" r="1.3" fill="#12c612"/>
<circle cx="184.5" cy="467.0" r="1.2" fill="#12c612"/>
<path d="M183.9 470.1 L186.4 470.1" stroke="#12c612" stroke-width="2.3" fill="none" stroke-linecap="round" stroke-linejoin="round" />
<path d="M189.0 470.7 L192.0 470.7" stroke="#12c612" stroke-width="2.12" fill="none" stroke-linecap="round" stroke-linejoin="round" />
<path d="M183.2 484.0 L186.4 484.0" stroke="#12c612" stroke-width="2.3" fill="none" stroke-linecap="round" stroke-linejoin="round" />
<path d="M188.3 484.7 L190.2 484.7" stroke="#12c612" stroke-width="2.12" fill="none" stroke-linecap="round" stroke-linejoin="round" />
<path d="M182.0 490.7 L186.4 490.7" stroke="#12c612" stroke-width="2.3" fill="none" stroke-linecap="round" stroke-linejoin="round" />
<path d="M37.6 357.9 L44.8 357.9" stroke="#ff14e6" stroke-width="2.67" fill="none" stroke-linecap="round" stroke-linejoin="round" />
<path d="M37.6 387.0 L44.8 387.0" stroke="#ff14e6" stroke-width="2.67" fill="none" stroke-linecap="round" stroke-linejoin="round" />
<path d="M37.6 444.8 L44.8 444.8" stroke="#ff14e6" stroke-width="2.67" fill="none" stroke-linecap="round" stroke-linejoin="round" />
<path d="M37.6 473.3 L44.8 473.3" stroke="#ff14e6" stroke-width="2.67" fill="none" stroke-linecap="round" stroke-linejoin="round" />
</g>
<line x1="14.3" y1="491.0" x2="14.3" y2="489.0" stroke="#444" stroke-width="0.8" />
<line x1="14.3" y1="308.7" x2="14.3" y2="310.7" stroke="#444" stroke-width="0.8" />
<text x="14.3" y="505.8" font-size="12" text-anchor="middle" fill="#111" >3</text>
<line x1="39.9" y1="491.0" x2="39.9" y2="489.0" stroke="#444" stroke-width="0.8" />
<line x1="39.9" y1="308.7" x2="39.9" y2="310.7" stroke="#444" stroke-width="0.8" />
<text x="39.9" y="505.8" font-size="12" text-anchor="middle" fill="#111" >0</text>
<line x1="65.5" y1="491.0" x2="65.5" y2="489.0" stroke="#444" stroke-width="0.8" />
<line x1="65.5" y1="308.7" x2="65.5" y2="310.7" stroke="#444" stroke-width="0.8" />
<text x="65.5" y="505.8" font-size="12" text-anchor="middle" fill="#111" >-3</text>
<line x1="91.1" y1="491.0" x2="91.1" y2="489.0" stroke="#444" stroke-width="0.8" />
<line x1="91.1" y1="308.7" x2="91.1" y2="310.7" stroke="#444" stroke-width="0.8" />
<text x="91.1" y="505.8" font-size="12" text-anchor="middle" fill="#111" >-6</text>
<line x1="116.7" y1="491.0" x2="116.7" y2="489.0" stroke="#444" stroke-width="0.8" />
<line x1="116.7" y1="308.7" x2="116.7" y2="310.7" stroke="#444" stroke-width="0.8" />
<text x="116.7" y="505.8" font-size="12" text-anchor="middle" fill="#111" >-9</text>
<line x1="142.3" y1="491.0" x2="142.3" y2="489.0" stroke="#444" stroke-width="0.8" />
<line x1="142.3" y1="308.7" x2="142.3" y2="310.7" stroke="#444" stroke-width="0.8" />
<text x="142.3" y="505.8" font-size="12" text-anchor="middle" fill="#111" >-12</text>
<line x1="167.9" y1="491.0" x2="167.9" y2="489.0" stroke="#444" stroke-width="0.8" />
<line x1="167.9" y1="308.7" x2="167.9" y2="310.7" stroke="#444" stroke-width="0.8" />
<text x="167.9" y="505.8" font-size="12" text-anchor="middle" fill="#111" >-15</text>
<line x1="193.5" y1="491.0" x2="193.5" y2="489.0" stroke="#444" stroke-width="0.8" />
<line x1="193.5" y1="308.7" x2="193.5" y2="310.7" stroke="#444" stroke-width="0.8" />
<text x="193.5" y="505.8" font-size="12" text-anchor="middle" fill="#111" >-18</text>
<line x1="193.5" y1="308.7" x2="191.5" y2="308.7" stroke="#444" stroke-width="0.8" />
<line x1="14.3" y1="308.7" x2="16.3" y2="308.7" stroke="#444" stroke-width="0.8" />
<text x="197.6" y="312.7" font-size="12" text-anchor="start" fill="#111" >1</text>
<line x1="193.5" y1="369.5" x2="191.5" y2="369.5" stroke="#444" stroke-width="0.8" />
<line x1="14.3" y1="369.5" x2="16.3" y2="369.5" stroke="#444" stroke-width="0.8" />
<text x="197.6" y="373.5" font-size="12" text-anchor="start" fill="#111" >0.5</text>
<line x1="193.5" y1="430.2" x2="191.5" y2="430.2" stroke="#444" stroke-width="0.8" />
<line x1="14.3" y1="430.2" x2="16.3" y2="430.2" stroke="#444" stroke-width="0.8" />
<text x="197.6" y="434.2" font-size="12" text-anchor="start" fill="#111" >0</text>
<line x1="193.5" y1="491.0" x2="191.5" y2="491.0" stroke="#444" stroke-width="0.8" />
<line x1="14.3" y1="491.0" x2="16.3" y2="491.0" stroke="#444" stroke-width="0.8" />
<text x="197.2" y="495.5" font-size="12" text-anchor="start" fill="#111" >-0.5</text>
<text x="103.4" y="520.0" font-size="12" text-anchor="middle" fill="#111" >Y (m)</text>
<text x="225" y="400" font-size="12" text-anchor="middle" fill="#111" transform="rotate(-90 225 400)" dy="4">Z (m)</text>
<text x="121.4" y="542.4" font-size="13.3" text-anchor="middle" fill="#111">(<tspan font-weight="bold">c</tspan>)</text>
<path d="M40.1 416.7 L109.3 392.3" stroke="#1414ff" stroke-width="0.8" fill="none" stroke-linecap="round" stroke-linejoin="round" />
<circle cx="53.9" cy="411.8" r="1.55" fill="#1414ff"/>
<circle cx="67.8" cy="406.9" r="1.55" fill="#1414ff"/>
<circle cx="81.6" cy="402.1" r="1.55" fill="#1414ff"/>
<circle cx="95.5" cy="397.2" r="1.55" fill="#1414ff"/>
<circle cx="109.3" cy="392.3" r="1.55" fill="#1414ff"/>
<path d="M40.1 416.7 L113.7 404.7 L142.1 401.1" stroke="#1414ff" stroke-width="0.8" fill="none" stroke-linecap="round" stroke-linejoin="round" />
<circle cx="53.7" cy="413.8" r="1.55" fill="#1414ff"/>
<circle cx="65.1" cy="412.3" r="1.55" fill="#1414ff"/>
<circle cx="69.6" cy="412.0" r="1.55" fill="#1414ff"/>
<circle cx="77.7" cy="410.0" r="1.55" fill="#1414ff"/>
<circle cx="84.0" cy="409.5" r="1.55" fill="#1414ff"/>
<circle cx="90.3" cy="408.2" r="1.55" fill="#1414ff"/>
<circle cx="98.6" cy="407.5" r="1.55" fill="#1414ff"/>
<circle cx="103.0" cy="405.7" r="1.55" fill="#1414ff"/>
<circle cx="113.7" cy="404.7" r="1.55" fill="#1414ff"/>
<circle cx="127.7" cy="403.2" r="1.55" fill="#1414ff"/>
<circle cx="142.1" cy="401.1" r="1.55" fill="#1414ff"/>
<path d="M36.2 419.9 L44.0 419.9 L40.1 413.3Z" fill="#000"/>
<line x1="40.1" y1="406.0" x2="40.1" y2="416.5" stroke="#1414ff" stroke-width="1.6" />
<circle cx="40.1" cy="409.0" r="1.5" fill="#1414ff"/>
<circle cx="40.1" cy="412.0" r="1.5" fill="#1414ff"/>
<circle cx="40.1" cy="415.0" r="1.5" fill="#1414ff"/>
<circle cx="38.3" cy="416.2" r="1.3" fill="#ff14e6"/>
<path d="M36.0 408.3 L44.2 408.3 L40.1 401.1Z" fill="#ff0000"/>
<text x="48.6" y="407.6" font-size="12" text-anchor="middle" fill="#ff0000" >1</text>
<path d="M108.6 394.4 L116.8 394.4 L112.7 387.2Z" fill="#ff0000"/>
<text x="121.0" y="393.0" font-size="12" text-anchor="middle" fill="#ff0000" >3</text>
<path d="M109.9 406.4 L118.1 406.4 L114.0 399.2Z" fill="#ff0000"/>
<text x="123.8" y="406.0" font-size="12" text-anchor="middle" fill="#ff0000" >2</text>
<path d="M162.9 399.7 L171.1 399.7 L167.0 392.5Z" fill="#ff0000"/>
<text x="175.6" y="399.6" font-size="12" text-anchor="middle" fill="#ff0000" >4</text>
<circle cx="113.7" cy="404.7" r="1.5" fill="#1414ff"/>
<rect x="31.1" y="351.5" width="20.299999999999997" height="128.10000000000002" fill="none" stroke="#000" stroke-width="1.3" stroke-dasharray="4.5 2.2"/>
<rect x="138.1" y="393" width="18.200000000000017" height="73.30000000000001" fill="none" stroke="#000" stroke-width="1.3" stroke-dasharray="4.5 2.2"/>
<line x1="72.7" y1="340.6" x2="60.9" y2="354.7" stroke="#000" stroke-width="1.5" />
<path d="M55.8 360.8 L58.5 352.0 L64.0 356.6Z" fill="#000"/>
<line x1="118.2" y1="339.9" x2="135.3" y2="380.6" stroke="#000" stroke-width="1.5" />
<path d="M138.4 388.0 L131.8 381.6 L138.4 378.8Z" fill="#000"/>
<rect x="74.3" y="321.8" width="43" height="17.3" fill="#c0c0c0" stroke="#111" stroke-width="1.5"/>
<text x="95.6" y="333.9" font-size="11.9" text-anchor="middle" fill="#111" >NLOS</text>
<clipPath id="cd"><rect x="286.5" y="307.7" width="177.89999999999998" height="184.8"/></clipPath>
<rect x="287.5" y="308.7" width="175.89999999999998" height="182.3" fill="none" stroke="#3a3a3a" stroke-width="1"/>
<g clip-path="url(#cd)">
<path d="M294.5 311.0 L310.3 316.1 L324.2 319.3 L333.1 319.3" stroke="#12c612" stroke-width="2.58" fill="none" stroke-linecap="round" stroke-linejoin="round" />
<path d="M337.5 309.2 L343.2 312.3" stroke="#12c612" stroke-width="2.39" fill="none" stroke-linecap="round" stroke-linejoin="round" />
<path d="M343.2 309.8 L344.4 316.1" stroke="#12c612" stroke-width="2.39" fill="none" stroke-linecap="round" stroke-linejoin="round" />
<path d="M335.6 323.7 L341.9 325.0 L343.2 318.6" stroke="#12c612" stroke-width="2.3" fill="none" stroke-linecap="round" stroke-linejoin="round" />
<circle cx="347.6" cy="328.1" r="1.4" fill="#12c612"/>
<path d="M345 309.5 L354 309.5 L354.5 318 L350 318.8 L348 314 L345 315Z" fill="#12c612" stroke="#12c612" stroke-width="1.4" stroke-linejoin="round"/>
<line x1="348.0" y1="312.0" x2="351.0" y2="310.0" stroke="#fff" stroke-width="0.7" />
<circle cx="348.5" cy="329.0" r="1.4" fill="#12c612"/>
<path d="M316.6 354.7 L319.8 354.7" stroke="#12c612" stroke-width="2.3" fill="none" stroke-linecap="round" stroke-linejoin="round" />
<path d="M333.7 355.6 L343.2 355.6" stroke="#12c612" stroke-width="2.39" fill="none" stroke-linecap="round" stroke-linejoin="round" />
<path d="M338.1 356.6 L343.2 359.8" stroke="#12c612" stroke-width="2.21" fill="none" stroke-linecap="round" stroke-linejoin="round" />
<path d="M290.0 364.6 L300.8 364.6" stroke="#12c612" stroke-width="2.39" fill="none" stroke-linecap="round" stroke-linejoin="round" />
<path d="M315.4 365.4 L343.2 367.7" stroke="#12c612" stroke-width="2.39" fill="none" stroke-linecap="round" stroke-linejoin="round" />
<path d="M345.0 356.6 L365.2 356.6" stroke="#12c612" stroke-width="2.58" fill="none" stroke-linecap="round" stroke-linejoin="round" />
<path d="M367.8 357.9 L409.0 357.9" stroke="#12c612" stroke-width="1.75" fill="none" stroke-linecap="round" stroke-linejoin="round" stroke-dasharray="3.5 1.2"/>
<path d="M345.0 368.9 L352.6 368.9" stroke="#12c612" stroke-width="2.3" fill="none" stroke-linecap="round" stroke-linejoin="round" />
<path d="M364.0 368.9 L367.1 368.9" stroke="#12c612" stroke-width="2.3" fill="none" stroke-linecap="round" stroke-linejoin="round" />
<path d="M396.9 368.6 L400.0 368.6" stroke="#12c612" stroke-width="2.21" fill="none" stroke-linecap="round" stroke-linejoin="round" />
<path d="M405.0 358.1 L408.8 358.1" stroke="#12c612" stroke-width="2.12" fill="none" stroke-linecap="round" stroke-linejoin="round" />
<path d="M408.2 368.6 L439.2 368.6" stroke="#12c612" stroke-width="2.67" fill="none" stroke-linecap="round" stroke-linejoin="round" />
<circle cx="307.8" cy="373.7" r="1.35" fill="#12c612"/>
<circle cx="309.9" cy="375.8" r="1.35" fill="#12c612"/>
<circle cx="287.7" cy="396.8" r="1.35" fill="#12c612"/>
<circle cx="335.6" cy="373.0" r="1.35" fill="#12c612"/>
<path d="M335.0 377.1 L338.1 377.1" stroke="#12c612" stroke-width="2.3" fill="none" stroke-linecap="round" stroke-linejoin="round" />
<path d="M333.1 380.6 L341.9 380.6" stroke="#12c612" stroke-width="2.3" fill="none" stroke-linecap="round" stroke-linejoin="round" />
<path d="M335.0 390.8 L343.2 390.8" stroke="#12c612" stroke-width="2.3" fill="none" stroke-linecap="round" stroke-linejoin="round" />
<path d="M329.3 397.7 L333.7 397.7" stroke="#12c612" stroke-width="2.3" fill="none" stroke-linecap="round" stroke-linejoin="round" />
<path d="M346.3 373.7 L354.5 373.7" stroke="#12c612" stroke-width="2.3" fill="none" stroke-linecap="round" stroke-linejoin="round" />
<path d="M345.0 377.9 L347.5 377.9" stroke="#12c612" stroke-width="2.3" fill="none" stroke-linecap="round" stroke-linejoin="round" />
<path d="M345.0 390.8 L353.9 390.8" stroke="#12c612" stroke-width="2.3" fill="none" stroke-linecap="round" stroke-linejoin="round" />
<path d="M388.6 398.3 L394.0 397.8 L400.7 396.5" stroke="#12c612" stroke-width="2.12" fill="none" stroke-linecap="round" stroke-linejoin="round" />
<path d="M402.6 400.9 L408.2 400.9" stroke="#12c612" stroke-width="2.21" fill="none" stroke-linecap="round" stroke-linejoin="round" />
<path d="M404.4 396.5 L408.2 396.3" stroke="#12c612" stroke-width="2.12" fill="none" stroke-linecap="round" stroke-linejoin="round" />
<path d="M405.0 395.2 L408.2 395.2" stroke="#12c612" stroke-width="1.84" fill="none" stroke-linecap="round" stroke-linejoin="round" />
<path d="M412.6 398.1 L417.6 398.1" stroke="#12c612" stroke-width="2.02" fill="none" stroke-linecap="round" stroke-linejoin="round" />
<path d="M405.0 401.1 L407.5 401.1" stroke="#12c612" stroke-width="1.84" fill="none" stroke-linecap="round" stroke-linejoin="round" />
<path d="M417.0 311.0 L445.5 311.0" stroke="#12c612" stroke-width="2.39" fill="none" stroke-linecap="round" stroke-linejoin="round" />
<path d="M455.6 309.8 L459.4 309.8" stroke="#12c612" stroke-width="2.3" fill="none" stroke-linecap="round" stroke-linejoin="round" />
<path d="M437.3 321.8 L449.3 321.2 L454.3 318.6" stroke="#12c612" stroke-width="2.21" fill="none" stroke-linecap="round" stroke-linejoin="round" />
<path d="M438.1 323.0 L438.1 332.6" stroke="#12c612" stroke-width="1.84" fill="none" stroke-linecap="round" stroke-linejoin="round" stroke-dasharray="2.2 2.6"/>
<path d="M444.8 323.0 L444.8 330.7" stroke="#12c612" stroke-width="1.84" fill="none" stroke-linecap="round" stroke-linejoin="round" stroke-dasharray="2.2 2.6"/>
<path d="M438.5 337.6 L448.0 336.4" stroke="#12c612" stroke-width="2.39" fill="none" stroke-linecap="round" stroke-linejoin="round" />
<path d="M441.7 342.0 L451.2 340.2" stroke="#12c612" stroke-width="2.58" fill="none" stroke-linecap="round" stroke-linejoin="round" />
<path d="M441.5 337.5 L442.5 342.0" stroke="#12c612" stroke-width="2.02" fill="none" stroke-linecap="round" stroke-linejoin="round" />
<path d="M438.5 372.4 L441.0 376.2 L450.5 376.9" stroke="#12c612" stroke-width="2.3" fill="none" stroke-linecap="round" stroke-linejoin="round" />
<path d="M441.7 373.7 L448.6 373.7" stroke="#12c612" stroke-width="2.3" fill="none" stroke-linecap="round" stroke-linejoin="round" />
<circle cx="437.3" cy="380.6" r="1.3" fill="#12c612"/>
<path d="M436.6 383.8 L440.4 383.8" stroke="#12c612" stroke-width="2.12" fill="none" stroke-linecap="round" stroke-linejoin="round" />
<path d="M417.0 391.0 L444.8 391.0" stroke="#12c612" stroke-width="2.67" fill="none" stroke-linecap="round" stroke-linejoin="round" />
<path d="M445.5 392.7 L455.6 393.3" stroke="#12c612" stroke-width="2.12" fill="none" stroke-linecap="round" stroke-linejoin="round" />
<path d="M456.2 390.5 L458.8 390.5" stroke="#12c612" stroke-width="2.02" fill="none" stroke-linecap="round" stroke-linejoin="round" />
<path d="M439.8 391.0 L439.8 412.3" stroke="#12c612" stroke-width="2.58" fill="none" stroke-linecap="round" stroke-linejoin="round" />
<circle cx="439.9" cy="415.0" r="1.2" fill="#12c612"/>
<circle cx="439.9" cy="418.1" r="1.2" fill="#12c612"/>
<circle cx="440.0" cy="421.2" r="1.2" fill="#12c612"/>
<circle cx="440.0" cy="424.3" r="1.2" fill="#12c612"/>
<circle cx="440.0" cy="427.4" r="1.2" fill="#12c612"/>
<circle cx="440.0" cy="430.5" r="1.2" fill="#12c612"/>
<circle cx="440.1" cy="433.6" r="1.2" fill="#12c612"/>
<circle cx="440.1" cy="436.7" r="1.2" fill="#12c612"/>
<circle cx="440.1" cy="439.8" r="1.2" fill="#12c612"/>
<circle cx="440.2" cy="442.9" r="1.2" fill="#12c612"/>
<circle cx="440.2" cy="446.0" r="1.2" fill="#12c612"/>
<path d="M438.5 411.0 L449.3 411.0 L454.3 407.8" stroke="#12c612" stroke-width="2.39" fill="none" stroke-linecap="round" stroke-linejoin="round" />
<path d="M451.8 413.5 L463.2 409.1" stroke="#12c612" stroke-width="2.39" fill="none" stroke-linecap="round" stroke-linejoin="round" />
<path d="M457.5 408.2 L460.5 408.0" stroke="#12c612" stroke-width="2.02" fill="none" stroke-linecap="round" stroke-linejoin="round" />
<path d="M449.3 424.9 L461.9 423.0" stroke="#12c612" stroke-width="2.58" fill="none" stroke-linecap="round" stroke-linejoin="round" />
<circle cx="333.1" cy="455.8" r="1.4" fill="#12c612"/>
<path d="M335.6 455.8 L340.7 454.3 L347.0 453.7" stroke="#12c612" stroke-width="2.3" fill="none" stroke-linecap="round" stroke-linejoin="round" />
<path d="M333.7 469.7 L353.9 470.1" stroke="#12c612" stroke-width="2.39" fill="none" stroke-linecap="round" stroke-linejoin="round" />
<path d="M329.3 484.0 L359.0 483.3" stroke="#12c612" stroke-width="2.76" fill="none" stroke-linecap="round" stroke-linejoin="round" />
<path d="M343.2 491.0 L357.0 490.3" stroke="#12c612" stroke-width="2.39" fill="none" stroke-linecap="round" stroke-linejoin="round" />
<circle cx="335.0" cy="491.0" r="1.4" fill="#12c612"/>
<circle cx="287.8" cy="463.4" r="1.4" fill="#12c612"/>
<circle cx="288.2" cy="472.0" r="1.4" fill="#12c612"/>
<circle cx="311.8" cy="484.9" r="1.4" fill="#12c612"/>
<circle cx="383.6" cy="473.3" r="1.4" fill="#12c612"/>
<circle cx="413.9" cy="476.8" r="1.4" fill="#12c612"/>
<path d="M353.9 460.0 L357.0 460.0" stroke="#12c612" stroke-width="2.3" fill="none" stroke-linecap="round" stroke-linejoin="round" />
<path d="M388.0 461.3 L395.0 461.3" stroke="#12c612" stroke-width="2.21" fill="none" stroke-linecap="round" stroke-linejoin="round" />
<path d="M395.6 462.5 L400.7 462.5" stroke="#12c612" stroke-width="2.21" fill="none" stroke-linecap="round" stroke-linejoin="round" />
<path d="M402.6 459.4 L407.6 459.4" stroke="#12c612" stroke-width="2.21" fill="none" stroke-linecap="round" stroke-linejoin="round" />
<path d="M404.4 462.9 L408.2 462.9" stroke="#12c612" stroke-width="2.12" fill="none" stroke-linecap="round" stroke-linejoin="round" />
<path d="M408.0 460.5 L417.0 462.5" stroke="#12c612" stroke-width="2.21" fill="none" stroke-linecap="round" stroke-linejoin="round" />
<path d="M395.6 491.0 L398.8 491.0" stroke="#12c612" stroke-width="2.21" fill="none" stroke-linecap="round" stroke-linejoin="round" />
<path d="M406.3 490.6 L421.4 490.6" stroke="#12c612" stroke-width="2.39" fill="none" stroke-linecap="round" stroke-linejoin="round" />
<path d="M422.7 484.0 L425.9 483.5" stroke="#12c612" stroke-width="2.21" fill="none" stroke-linecap="round" stroke-linejoin="round" />
<path d="M416.4 470.1 L432.8 470.1" stroke="#12c612" stroke-width="2.67" fill="none" stroke-linecap="round" stroke-linejoin="round" />
<path d="M442.6 452.5 L445.4 452.5 L443.4 470 L442 491 L431.2 491 L433.5 474 L437.6 461.5Z" fill="#12c612" stroke="#12c612" stroke-width="1.6" stroke-linejoin="round"/>
<path d="M444.0 455.0 L448.2 479.6" stroke="#12c612" stroke-width="2.12" fill="none" stroke-linecap="round" stroke-linejoin="round" />
<path d="M448.2 479.6 L449.3 491.0" stroke="#12c612" stroke-width="2.12" fill="none" stroke-linecap="round" stroke-linejoin="round" />
<path d="M445.8 454.3 L455.8 477.0" stroke="#12c612" stroke-width="2.12" fill="none" stroke-linecap="round" stroke-linejoin="round" />
<path d="M446.9 461.0 L453.0 491.0" stroke="#12c612" stroke-width="2.12" fill="none" stroke-linecap="round" stroke-linejoin="round" />
<path d="M449.3 458.0 L460.7 473.3" stroke="#12c612" stroke-width="2.12" fill="none" stroke-linecap="round" stroke-linejoin="round" />
<path d="M444.6 470.0 L446.2 491.0" stroke="#12c612" stroke-width="2.12" fill="none" stroke-linecap="round" stroke-linejoin="round" />
<line x1="438.0" y1="478.0" x2="441.2" y2="462.0" stroke="#fff" stroke-width="0.6" />
<path d="M444.2 443.5 L450.5 443 L450.5 450.5 L444.2 450.5Z" fill="#12c612" stroke="#12c612" stroke-width="1.8" stroke-linejoin="round"/>
<path d="M439.5 448.5 L442.8 450.0" stroke="#12c612" stroke-width="2.39" fill="none" stroke-linecap="round" stroke-linejoin="round" />
<path d="M450.5 451.1 L463.2 449.2" stroke="#12c612" stroke-width="2.39" fill="none" stroke-linecap="round" stroke-linejoin="round" />
<path d="M457.0 449.0 L460.5 452.5" stroke="#12c612" stroke-width="2.94" fill="none" stroke-linecap="round" stroke-linejoin="round" />
<path d="M446.7 434.7 L450.5 434.7" stroke="#12c612" stroke-width="2.58" fill="none" stroke-linecap="round" stroke-linejoin="round" />
<path d="M457.5 436.6 L460.7 436.6" stroke="#12c612" stroke-width="2.58" fill="none" stroke-linecap="round" stroke-linejoin="round" />
<circle cx="456.2" cy="458.7" r="1.4" fill="#12c612"/>
<circle cx="458.1" cy="460.6" r="1.4" fill="#12c612"/>
<circle cx="455.0" cy="465.7" r="1.4" fill="#12c612"/>
<circle cx="458.1" cy="465.7" r="1.4" fill="#12c612"/>
<circle cx="463.2" cy="455.5" r="1.4" fill="#12c612"/>
<circle cx="439.0" cy="484.5" r="1.4" fill="#12c612"/>
<circle cx="438.6" cy="488.5" r="1.4" fill="#12c612"/>
<path d="M455.6 487.8 L463.2 487.8" stroke="#12c612" stroke-width="2.3" fill="none" stroke-linecap="round" stroke-linejoin="round" />
<circle cx="411.3" cy="365.2" r="1.55" fill="#ff9812"/>
<circle cx="411.1" cy="379.6" r="1.55" fill="#ff9812"/>
<circle cx="411.1" cy="394.6" r="1.55" fill="#ff9812"/>
<circle cx="411.1" cy="408.7" r="1.55" fill="#ff9812"/>
<path d="M409.0 423.0 L412.4 423.0" stroke="#ff9812" stroke-width="2.39" fill="none" stroke-linecap="round" stroke-linejoin="round" />
<path d="M409.6 437.6 L413.0 437.6" stroke="#ff9812" stroke-width="2.39" fill="none" stroke-linecap="round" stroke-linejoin="round" />
<path d="M410.0 451.1 L413.4 451.1" stroke="#ff9812" stroke-width="2.39" fill="none" stroke-linecap="round" stroke-linejoin="round" />
<circle cx="408.2" cy="465.9" r="1.5" fill="#ff9812"/>
<circle cx="411.3" cy="468.8" r="1.5" fill="#ff9812"/>
<path d="M407.2 482.0 L408.6 479.6" stroke="#ff9812" stroke-width="2.58" fill="none" stroke-linecap="round" stroke-linejoin="round" />
<path d="M347.6 361.4 L350.0 362.4" stroke="#ff9812" stroke-width="2.39" fill="none" stroke-linecap="round" stroke-linejoin="round" />
<path d="M345.4 407.8 L351.3 408.0" stroke="#ff9812" stroke-width="2.39" fill="none" stroke-linecap="round" stroke-linejoin="round" />
<path d="M357.0 408.5 L360.8 408.5" stroke="#ff9812" stroke-width="2.39" fill="none" stroke-linecap="round" stroke-linejoin="round" />
<path d="M347 453 L350 453.2 L353.9 455 L353.5 456.6 L349 456.2Z" fill="#ff9812" stroke="#ff9812" stroke-width="1.6" stroke-linejoin="round"/>
<circle cx="360.8" cy="452.4" r="1.5" fill="#ff9812"/>
<circle cx="348.5" cy="357.9" r="1.55" fill="#ff14e6"/>
<circle cx="348.5" cy="387.0" r="1.55" fill="#ff14e6"/>
<circle cx="348.5" cy="415.8" r="1.55" fill="#ff14e6"/>
<circle cx="348.5" cy="444.8" r="1.55" fill="#ff14e6"/>
<circle cx="348.5" cy="473.4" r="1.55" fill="#ff14e6"/>
<path d="M347.8 460.0 L351.8 460.0" stroke="#ff14e6" stroke-width="2.58" fill="none" stroke-linecap="round" stroke-linejoin="round" />
<path d="M333.2 398.4 L339.2 398.4" stroke="#ff14e6" stroke-width="2.58" fill="none" stroke-linecap="round" stroke-linejoin="round" />
</g>
<line x1="287.5" y1="491.0" x2="287.5" y2="489.0" stroke="#444" stroke-width="0.8" />
<line x1="287.5" y1="308.7" x2="287.5" y2="310.7" stroke="#444" stroke-width="0.8" />
<text x="287.5" y="505.8" font-size="12" text-anchor="middle" fill="#111" >12</text>
<line x1="322.7" y1="491.0" x2="322.7" y2="489.0" stroke="#444" stroke-width="0.8" />
<line x1="322.7" y1="308.7" x2="322.7" y2="310.7" stroke="#444" stroke-width="0.8" />
<text x="322.7" y="505.8" font-size="12" text-anchor="middle" fill="#111" >9</text>
<line x1="357.9" y1="491.0" x2="357.9" y2="489.0" stroke="#444" stroke-width="0.8" />
<line x1="357.9" y1="308.7" x2="357.9" y2="310.7" stroke="#444" stroke-width="0.8" />
<text x="357.9" y="505.8" font-size="12" text-anchor="middle" fill="#111" >6</text>
<line x1="393.0" y1="491.0" x2="393.0" y2="489.0" stroke="#444" stroke-width="0.8" />
<line x1="393.0" y1="308.7" x2="393.0" y2="310.7" stroke="#444" stroke-width="0.8" />
<text x="393.0" y="505.8" font-size="12" text-anchor="middle" fill="#111" >3</text>
<line x1="428.2" y1="491.0" x2="428.2" y2="489.0" stroke="#444" stroke-width="0.8" />
<line x1="428.2" y1="308.7" x2="428.2" y2="310.7" stroke="#444" stroke-width="0.8" />
<text x="428.2" y="505.8" font-size="12" text-anchor="middle" fill="#111" >0</text>
<line x1="463.4" y1="491.0" x2="463.4" y2="489.0" stroke="#444" stroke-width="0.8" />
<line x1="463.4" y1="308.7" x2="463.4" y2="310.7" stroke="#444" stroke-width="0.8" />
<text x="463.4" y="505.8" font-size="12" text-anchor="middle" fill="#111" >-3</text>
<line x1="463.4" y1="308.7" x2="461.4" y2="308.7" stroke="#444" stroke-width="0.8" />
<line x1="287.5" y1="308.7" x2="289.5" y2="308.7" stroke="#444" stroke-width="0.8" />
<text x="467.6" y="312.7" font-size="12" text-anchor="start" fill="#111" >1</text>
<line x1="463.4" y1="369.5" x2="461.4" y2="369.5" stroke="#444" stroke-width="0.8" />
<line x1="287.5" y1="369.5" x2="289.5" y2="369.5" stroke="#444" stroke-width="0.8" />
<text x="467.6" y="373.5" font-size="12" text-anchor="start" fill="#111" >0.5</text>
<line x1="463.4" y1="430.2" x2="461.4" y2="430.2" stroke="#444" stroke-width="0.8" />
<line x1="287.5" y1="430.2" x2="289.5" y2="430.2" stroke="#444" stroke-width="0.8" />
<text x="467.6" y="434.2" font-size="12" text-anchor="start" fill="#111" >0</text>
<line x1="463.4" y1="491.0" x2="461.4" y2="491.0" stroke="#444" stroke-width="0.8" />
<line x1="287.5" y1="491.0" x2="289.5" y2="491.0" stroke="#444" stroke-width="0.8" />
<text x="467.2" y="495.5" font-size="12" text-anchor="start" fill="#111" >-0.5</text>
<text x="375.4" y="520.0" font-size="12" text-anchor="middle" fill="#111" >X (m)</text>
<text x="495" y="400" font-size="12" text-anchor="middle" fill="#111" transform="rotate(-90 495 400)" dy="4">Z (m)</text>
<text x="390.7" y="542.5" font-size="13.3" text-anchor="middle" fill="#111">(<tspan font-weight="bold">d</tspan>)</text>
<path d="M428.2 415.9 L357.4 406.0" stroke="#1414ff" stroke-width="0.8" fill="none" stroke-linecap="round" stroke-linejoin="round" />
<circle cx="404.6" cy="412.6" r="1.55" fill="#1414ff"/>
<circle cx="381.0" cy="409.3" r="1.55" fill="#1414ff"/>
<circle cx="357.4" cy="406.0" r="1.55" fill="#1414ff"/>
<path d="M428.2 415.9 L334.2 403.6" stroke="#1414ff" stroke-width="0.8" fill="none" stroke-linecap="round" stroke-linejoin="round" />
<circle cx="412.5" cy="413.8" r="1.55" fill="#1414ff"/>
<circle cx="396.9" cy="411.8" r="1.55" fill="#1414ff"/>
<circle cx="381.2" cy="409.8" r="1.55" fill="#1414ff"/>
<circle cx="365.5" cy="407.7" r="1.55" fill="#1414ff"/>
<circle cx="349.9" cy="405.7" r="1.55" fill="#1414ff"/>
<circle cx="334.2" cy="403.6" r="1.55" fill="#1414ff"/>
<path d="M428.2 415.9 L360.2 392.7" stroke="#1414ff" stroke-width="0.8" fill="none" stroke-linecap="round" stroke-linejoin="round" />
<circle cx="414.6" cy="411.3" r="1.55" fill="#1414ff"/>
<circle cx="401.0" cy="406.6" r="1.55" fill="#1414ff"/>
<circle cx="387.4" cy="402.0" r="1.55" fill="#1414ff"/>
<circle cx="373.8" cy="397.3" r="1.55" fill="#1414ff"/>
<circle cx="360.2" cy="392.7" r="1.55" fill="#1414ff"/>
<path d="M428.2 415.9 L343.3 401.1" stroke="#1414ff" stroke-width="0.8" fill="none" stroke-linecap="round" stroke-linejoin="round" />
<circle cx="416.1" cy="413.8" r="1.55" fill="#1414ff"/>
<circle cx="403.9" cy="411.7" r="1.55" fill="#1414ff"/>
<circle cx="391.8" cy="409.6" r="1.55" fill="#1414ff"/>
<circle cx="379.7" cy="407.4" r="1.55" fill="#1414ff"/>
<circle cx="367.6" cy="405.3" r="1.55" fill="#1414ff"/>
<circle cx="355.4" cy="403.2" r="1.55" fill="#1414ff"/>
<circle cx="343.3" cy="401.1" r="1.55" fill="#1414ff"/>
<path d="M318.8 399.7 L327.0 399.7 L322.9 392.5Z" fill="#ff0000"/>
<text x="314.2" y="399.8" font-size="12" text-anchor="middle" fill="#ff0000" >4</text>
<path d="M329.6 408.3 L337.8 408.3 L333.7 401.1Z" fill="#ff0000"/>
<text x="323.6" y="408.2" font-size="12" text-anchor="middle" fill="#ff0000" >1</text>
<path d="M352.9 394.4 L361.1 394.4 L357.0 387.2Z" fill="#ff0000"/>
<text x="366.2" y="394.0" font-size="12" text-anchor="middle" fill="#ff0000" >3</text>
<circle cx="335.0" cy="404.0" r="1.5" fill="#1414ff"/>
<circle cx="345.5" cy="401.3" r="1.4" fill="#ff0000"/>
<path d="M424.4 419.5 L432.2 419.5 L428.3 412.9Z" fill="#000"/>
<circle cx="428.3" cy="417.0" r="1.3" fill="#1414ff"/>
<rect x="343.8" y="352.8" width="12.300000000000011" height="126.19999999999999" fill="none" stroke="#000" stroke-width="1.3" stroke-dasharray="4.5 2.2"/>
<path d="M328.8 398.5 A7.5 7.5 0 0 1 343.6 397" fill="none" stroke="#000" stroke-width="1.3" stroke-dasharray="4 2"/>
<line x1="314.7" y1="423.0" x2="322.7" y2="413.8" stroke="#000" stroke-width="1.5" />
<path d="M328.0 407.8 L325.1 416.6 L319.7 411.8Z" fill="#000"/>
<line x1="314.7" y1="447.7" x2="332.0" y2="462.4" stroke="#000" stroke-width="1.5" />
<path d="M338.1 467.6 L329.3 464.8 L334.0 459.4Z" fill="#000"/>
<rect x="292.6" y="426.8" width="43" height="16.7" fill="#c0c0c0" stroke="#111" stroke-width="1.5"/>
<text x="314.3" y="438.9" font-size="11.9" text-anchor="middle" fill="#111" >NLOS</text>
</svg>
</body></html>
